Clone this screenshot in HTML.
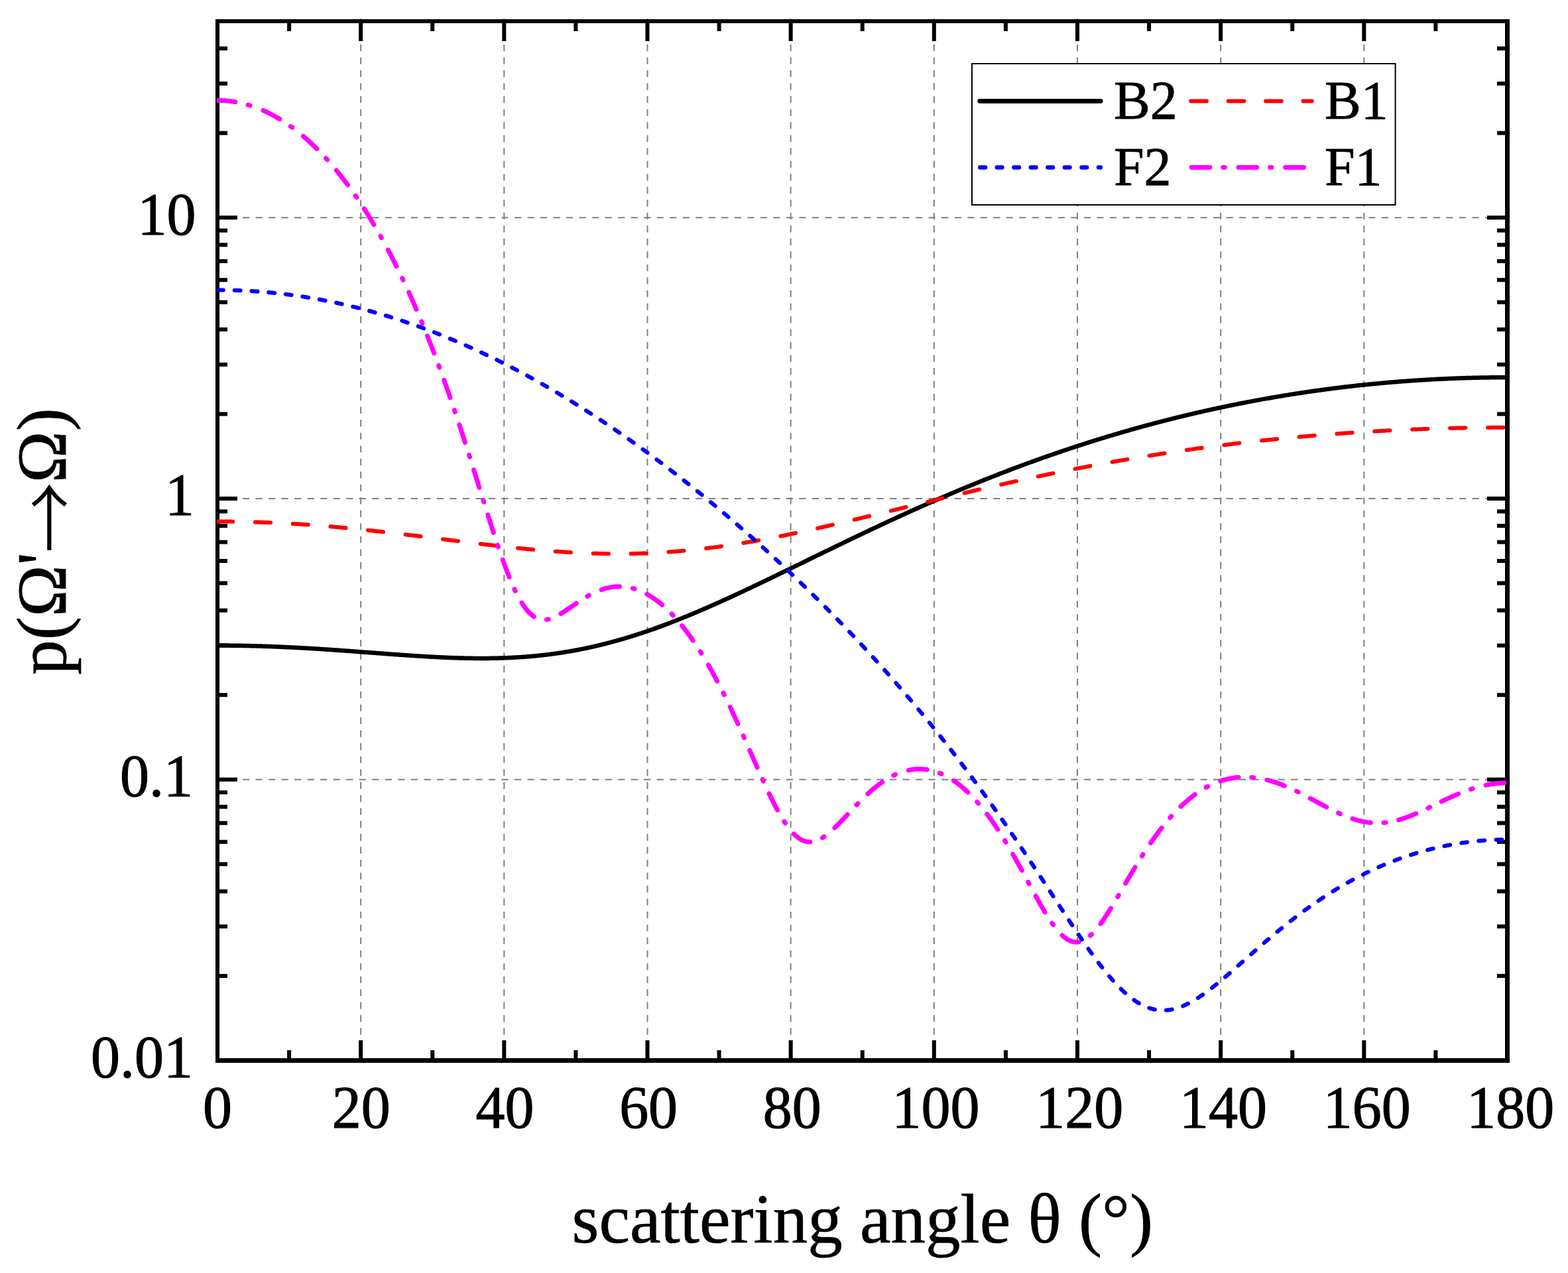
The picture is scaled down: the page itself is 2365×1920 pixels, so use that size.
<!DOCTYPE html><html><head><meta charset="utf-8"><style>html,body{margin:0;padding:0;background:#fff;overflow:hidden;}svg{display:block;}text{font-family:"Liberation Serif",serif;fill:#000;}</style></head><body>
<svg width="2365" height="1920" viewBox="0 0 2365 1920">
<rect x="0" y="0" width="2365" height="1920" fill="#fff"/>
<g stroke="#808080" stroke-width="2" stroke-dasharray="10.2 9.32" fill="none"><line x1="544.17" y1="28" x2="544.17" y2="1600"/><line x1="760.33" y1="28" x2="760.33" y2="1600"/><line x1="976.50" y1="28" x2="976.50" y2="1600"/><line x1="1192.67" y1="28" x2="1192.67" y2="1600"/><line x1="1408.83" y1="28" x2="1408.83" y2="1600"/><line x1="1625.00" y1="28" x2="1625.00" y2="1600"/><line x1="1841.17" y1="28" x2="1841.17" y2="1600"/><line x1="2057.33" y1="28" x2="2057.33" y2="1600"/><line x1="327" y1="328.22" x2="2274" y2="328.22"/><line x1="327" y1="751.98" x2="2274" y2="751.98"/><line x1="327" y1="1175.74" x2="2274" y2="1175.74"/></g>
<g fill="#000"><rect x="325" y="29" width="6" height="1574"/><rect x="325" y="29" width="1952" height="6"/><rect x="325" y="1596" width="1952" height="7"/><rect x="2270" y="29" width="7" height="1574"/><rect x="325.00" y="1569" width="6" height="27"/><rect x="325.00" y="35" width="6" height="27"/><rect x="433.08" y="1584" width="6" height="12"/><rect x="433.08" y="35" width="6" height="12"/><rect x="541.17" y="1569" width="6" height="27"/><rect x="541.17" y="35" width="6" height="27"/><rect x="649.25" y="1584" width="6" height="12"/><rect x="649.25" y="35" width="6" height="12"/><rect x="757.33" y="1569" width="6" height="27"/><rect x="757.33" y="35" width="6" height="27"/><rect x="865.42" y="1584" width="6" height="12"/><rect x="865.42" y="35" width="6" height="12"/><rect x="973.50" y="1569" width="6" height="27"/><rect x="973.50" y="35" width="6" height="27"/><rect x="1081.58" y="1584" width="6" height="12"/><rect x="1081.58" y="35" width="6" height="12"/><rect x="1189.67" y="1569" width="6" height="27"/><rect x="1189.67" y="35" width="6" height="27"/><rect x="1297.75" y="1584" width="6" height="12"/><rect x="1297.75" y="35" width="6" height="12"/><rect x="1405.83" y="1569" width="6" height="27"/><rect x="1405.83" y="35" width="6" height="27"/><rect x="1513.92" y="1584" width="6" height="12"/><rect x="1513.92" y="35" width="6" height="12"/><rect x="1622.00" y="1569" width="6" height="27"/><rect x="1622.00" y="35" width="6" height="27"/><rect x="1730.08" y="1584" width="6" height="12"/><rect x="1730.08" y="35" width="6" height="12"/><rect x="1838.17" y="1569" width="6" height="27"/><rect x="1838.17" y="35" width="6" height="27"/><rect x="1946.25" y="1584" width="6" height="12"/><rect x="1946.25" y="35" width="6" height="12"/><rect x="2054.33" y="1569" width="6" height="27"/><rect x="2054.33" y="35" width="6" height="27"/><rect x="2162.42" y="1584" width="6" height="12"/><rect x="2162.42" y="35" width="6" height="12"/><rect x="2270.50" y="1569" width="6" height="27"/><rect x="2270.50" y="35" width="6" height="27"/><rect x="331" y="1596.50" width="27" height="6"/><rect x="2243" y="1596.50" width="27" height="6"/><rect x="331" y="1468.94" width="12" height="6"/><rect x="2258" y="1468.94" width="12" height="6"/><rect x="331" y="1394.32" width="12" height="6"/><rect x="2258" y="1394.32" width="12" height="6"/><rect x="331" y="1341.37" width="12" height="6"/><rect x="2258" y="1341.37" width="12" height="6"/><rect x="331" y="1300.30" width="12" height="6"/><rect x="2258" y="1300.30" width="12" height="6"/><rect x="331" y="1266.75" width="12" height="6"/><rect x="2258" y="1266.75" width="12" height="6"/><rect x="331" y="1238.38" width="12" height="6"/><rect x="2258" y="1238.38" width="12" height="6"/><rect x="331" y="1213.81" width="12" height="6"/><rect x="2258" y="1213.81" width="12" height="6"/><rect x="331" y="1192.13" width="12" height="6"/><rect x="2258" y="1192.13" width="12" height="6"/><rect x="331" y="1172.74" width="27" height="6"/><rect x="2243" y="1172.74" width="27" height="6"/><rect x="331" y="1045.18" width="12" height="6"/><rect x="2258" y="1045.18" width="12" height="6"/><rect x="331" y="970.56" width="12" height="6"/><rect x="2258" y="970.56" width="12" height="6"/><rect x="331" y="917.61" width="12" height="6"/><rect x="2258" y="917.61" width="12" height="6"/><rect x="331" y="876.54" width="12" height="6"/><rect x="2258" y="876.54" width="12" height="6"/><rect x="331" y="842.99" width="12" height="6"/><rect x="2258" y="842.99" width="12" height="6"/><rect x="331" y="814.62" width="12" height="6"/><rect x="2258" y="814.62" width="12" height="6"/><rect x="331" y="790.05" width="12" height="6"/><rect x="2258" y="790.05" width="12" height="6"/><rect x="331" y="768.37" width="12" height="6"/><rect x="2258" y="768.37" width="12" height="6"/><rect x="331" y="748.98" width="27" height="6"/><rect x="2243" y="748.98" width="27" height="6"/><rect x="331" y="621.42" width="12" height="6"/><rect x="2258" y="621.42" width="12" height="6"/><rect x="331" y="546.80" width="12" height="6"/><rect x="2258" y="546.80" width="12" height="6"/><rect x="331" y="493.85" width="12" height="6"/><rect x="2258" y="493.85" width="12" height="6"/><rect x="331" y="452.78" width="12" height="6"/><rect x="2258" y="452.78" width="12" height="6"/><rect x="331" y="419.23" width="12" height="6"/><rect x="2258" y="419.23" width="12" height="6"/><rect x="331" y="390.86" width="12" height="6"/><rect x="2258" y="390.86" width="12" height="6"/><rect x="331" y="366.29" width="12" height="6"/><rect x="2258" y="366.29" width="12" height="6"/><rect x="331" y="344.61" width="12" height="6"/><rect x="2258" y="344.61" width="12" height="6"/><rect x="331" y="325.22" width="27" height="6"/><rect x="2243" y="325.22" width="27" height="6"/><rect x="331" y="197.66" width="12" height="6"/><rect x="2258" y="197.66" width="12" height="6"/><rect x="331" y="123.04" width="12" height="6"/><rect x="2258" y="123.04" width="12" height="6"/><rect x="331" y="70.09" width="12" height="6"/><rect x="2258" y="70.09" width="12" height="6"/></g>
<defs><clipPath id="c"><rect x="327" y="20" width="1948" height="1590"/></clipPath></defs>
<g clip-path="url(#c)" fill="none" stroke-linejoin="round">
<path d="M328.00,973.56 329.35,973.56 330.70,973.56 332.05,973.56 333.40,973.56 334.76,973.57 336.11,973.57 337.46,973.58 338.81,973.58 340.16,973.59 341.51,973.60 342.86,973.61 344.21,973.62 345.56,973.63 346.91,973.64 348.27,973.65 349.62,973.67 350.97,973.68 352.32,973.70 353.67,973.71 355.02,973.73 356.37,973.75 357.72,973.77 359.07,973.79 360.43,973.81 361.78,973.83 363.13,973.85 364.48,973.87 365.83,973.90 367.18,973.92 368.53,973.95 369.88,973.97 371.23,974.00 372.58,974.03 373.94,974.06 375.29,974.09 376.64,974.12 377.99,974.15 379.34,974.18 380.69,974.22 382.04,974.25 383.39,974.28 384.74,974.32 386.09,974.36 387.45,974.39 388.80,974.43 390.15,974.47 391.50,974.51 392.85,974.55 394.20,974.59 395.55,974.64 396.90,974.68 398.25,974.72 399.61,974.77 400.96,974.81 402.31,974.86 403.66,974.91 405.01,974.95 406.36,975.00 407.71,975.05 409.06,975.10 410.41,975.15 411.76,975.21 413.12,975.26 414.47,975.31 415.82,975.36 417.17,975.42 418.52,975.48 419.87,975.53 421.22,975.59 422.57,975.65 423.92,975.71 425.27,975.76 426.63,975.82 427.98,975.89 429.33,975.95 430.68,976.01 432.03,976.07 433.38,976.14 434.73,976.20 436.08,976.26 437.43,976.33 438.79,976.40 440.14,976.46 441.49,976.53 442.84,976.60 444.19,976.67 445.54,976.74 446.89,976.81 448.24,976.88 449.59,976.95 450.94,977.03 452.30,977.10 453.65,977.17 455.00,977.25 456.35,977.32 457.70,977.40 459.05,977.47 460.40,977.55 461.75,977.63 463.10,977.71 464.46,977.78 465.81,977.86 467.16,977.94 468.51,978.02 469.86,978.10 471.21,978.19 472.56,978.27 473.91,978.35 475.26,978.43 476.61,978.52 477.97,978.60 479.32,978.69 480.67,978.77 482.02,978.86 483.37,978.94 484.72,979.03 486.07,979.12 487.42,979.21 488.77,979.29 490.12,979.38 491.48,979.47 492.83,979.56 494.18,979.65 495.53,979.74 496.88,979.83 498.23,979.93 499.58,980.02 500.93,980.11 502.28,980.20 503.64,980.29 504.99,980.39 506.34,980.48 507.69,980.58 509.04,980.67 510.39,980.77 511.74,980.86 513.09,980.96 514.44,981.05 515.79,981.15 517.15,981.25 518.50,981.34 519.85,981.44 521.20,981.54 522.55,981.64 523.90,981.73 525.25,981.83 526.60,981.93 527.95,982.03 529.31,982.13 530.66,982.23 532.01,982.33 533.36,982.43 534.71,982.53 536.06,982.63 537.41,982.73 538.76,982.83 540.11,982.93 541.46,983.03 542.82,983.13 544.17,983.23 545.52,983.33 546.87,983.43 548.22,983.53 549.57,983.64 550.92,983.74 552.27,983.84 553.62,983.94 554.98,984.04 556.33,984.14 557.68,984.25 559.03,984.35 560.38,984.45 561.73,984.55 563.08,984.65 564.43,984.75 565.78,984.86 567.13,984.96 568.49,985.06 569.84,985.16 571.19,985.26 572.54,985.36 573.89,985.47 575.24,985.57 576.59,985.67 577.94,985.77 579.29,985.87 580.64,985.97 582.00,986.07 583.35,986.17 584.70,986.27 586.05,986.37 587.40,986.47 588.75,986.57 590.10,986.67 591.45,986.77 592.80,986.87 594.16,986.96 595.51,987.06 596.86,987.16 598.21,987.26 599.56,987.35 600.91,987.45 602.26,987.55 603.61,987.64 604.96,987.74 606.31,987.83 607.67,987.93 609.02,988.02 610.37,988.12 611.72,988.21 613.07,988.30 614.42,988.39 615.77,988.49 617.12,988.58 618.47,988.67 619.83,988.76 621.18,988.85 622.53,988.94 623.88,989.03 625.23,989.12 626.58,989.20 627.93,989.29 629.28,989.38 630.63,989.46 631.98,989.55 633.34,989.63 634.69,989.71 636.04,989.80 637.39,989.88 638.74,989.96 640.09,990.04 641.44,990.12 642.79,990.20 644.14,990.28 645.49,990.36 646.85,990.43 648.20,990.51 649.55,990.58 650.90,990.66 652.25,990.73 653.60,990.80 654.95,990.87 656.30,990.94 657.65,991.01 659.01,991.08 660.36,991.15 661.71,991.22 663.06,991.28 664.41,991.35 665.76,991.41 667.11,991.47 668.46,991.53 669.81,991.59 671.16,991.65 672.52,991.71 673.87,991.77 675.22,991.82 676.57,991.88 677.92,991.93 679.27,991.99 680.62,992.04 681.97,992.09 683.32,992.13 684.67,992.18 686.03,992.23 687.38,992.27 688.73,992.32 690.08,992.36 691.43,992.40 692.78,992.44 694.13,992.48 695.48,992.51 696.83,992.55 698.19,992.58 699.54,992.62 700.89,992.65 702.24,992.68 703.59,992.71 704.94,992.73 706.29,992.76 707.64,992.78 708.99,992.80 710.34,992.82 711.70,992.84 713.05,992.86 714.40,992.88 715.75,992.89 717.10,992.90 718.45,992.91 719.80,992.92 721.15,992.93 722.50,992.94 723.86,992.94 725.21,992.94 726.56,992.95 727.91,992.94 729.26,992.94 730.61,992.94 731.96,992.93 733.31,992.92 734.66,992.91 736.01,992.90 737.37,992.89 738.72,992.87 740.07,992.85 741.42,992.84 742.77,992.81 744.12,992.79 745.47,992.77 746.82,992.74 748.17,992.71 749.53,992.68 750.88,992.65 752.23,992.61 753.58,992.57 754.93,992.53 756.28,992.49 757.63,992.45 758.98,992.40 760.33,992.36 761.68,992.31 763.04,992.26 764.39,992.20 765.74,992.15 767.09,992.09 768.44,992.03 769.79,991.96 771.14,991.90 772.49,991.83 773.84,991.76 775.19,991.69 776.55,991.62 777.90,991.54 779.25,991.46 780.60,991.38 781.95,991.30 783.30,991.21 784.65,991.13 786.00,991.04 787.35,990.95 788.71,990.85 790.06,990.75 791.41,990.65 792.76,990.55 794.11,990.45 795.46,990.34 796.81,990.23 798.16,990.12 799.51,990.01 800.86,989.89 802.22,989.77 803.57,989.65 804.92,989.52 806.27,989.40 807.62,989.27 808.97,989.14 810.32,989.00 811.67,988.87 813.02,988.73 814.38,988.59 815.73,988.44 817.08,988.29 818.43,988.15 819.78,987.99 821.13,987.84 822.48,987.68 823.83,987.52 825.18,987.36 826.53,987.19 827.89,987.02 829.24,986.85 830.59,986.68 831.94,986.51 833.29,986.33 834.64,986.15 835.99,985.96 837.34,985.77 838.69,985.59 840.04,985.39 841.40,985.20 842.75,985.00 844.10,984.80 845.45,984.60 846.80,984.39 848.15,984.18 849.50,983.97 850.85,983.76 852.20,983.54 853.56,983.32 854.91,983.10 856.26,982.87 857.61,982.65 858.96,982.42 860.31,982.18 861.66,981.95 863.01,981.71 864.36,981.47 865.71,981.22 867.07,980.98 868.42,980.73 869.77,980.47 871.12,980.22 872.47,979.96 873.82,979.70 875.17,979.43 876.52,979.17 877.87,978.90 879.23,978.62 880.58,978.35 881.93,978.07 883.28,977.79 884.63,977.51 885.98,977.22 887.33,976.93 888.68,976.64 890.03,976.35 891.38,976.05 892.74,975.75 894.09,975.44 895.44,975.14 896.79,974.83 898.14,974.52 899.49,974.20 900.84,973.89 902.19,973.57 903.54,973.25 904.89,972.92 906.25,972.59 907.60,972.26 908.95,971.93 910.30,971.59 911.65,971.25 913.00,970.91 914.35,970.57 915.70,970.22 917.05,969.87 918.41,969.52 919.76,969.16 921.11,968.80 922.46,968.44 923.81,968.08 925.16,967.71 926.51,967.34 927.86,966.97 929.21,966.60 930.56,966.22 931.92,965.84 933.27,965.46 934.62,965.07 935.97,964.69 937.32,964.30 938.67,963.90 940.02,963.51 941.37,963.11 942.72,962.71 944.07,962.31 945.43,961.90 946.78,961.49 948.13,961.08 949.48,960.67 950.83,960.25 952.18,959.83 953.53,959.41 954.88,958.99 956.23,958.56 957.59,958.14 958.94,957.70 960.29,957.27 961.64,956.83 962.99,956.40 964.34,955.96 965.69,955.51 967.04,955.07 968.39,954.62 969.74,954.17 971.10,953.71 972.45,953.26 973.80,952.80 975.15,952.34 976.50,951.88 977.85,951.41 979.20,950.95 980.55,950.48 981.90,950.01 983.26,949.53 984.61,949.06 985.96,948.58 987.31,948.10 988.66,947.61 990.01,947.13 991.36,946.64 992.71,946.15 994.06,945.66 995.41,945.16 996.77,944.67 998.12,944.17 999.47,943.67 1000.82,943.17 1002.17,942.66 1003.52,942.16 1004.87,941.65 1006.22,941.14 1007.57,940.62 1008.92,940.11 1010.28,939.59 1011.63,939.07 1012.98,938.55 1014.33,938.03 1015.68,937.50 1017.03,936.98 1018.38,936.45 1019.73,935.92 1021.08,935.38 1022.44,934.85 1023.79,934.31 1025.14,933.77 1026.49,933.23 1027.84,932.69 1029.19,932.15 1030.54,931.60 1031.89,931.05 1033.24,930.50 1034.59,929.95 1035.95,929.40 1037.30,928.85 1038.65,928.29 1040.00,927.73 1041.35,927.17 1042.70,926.61 1044.05,926.05 1045.40,925.48 1046.75,924.92 1048.11,924.35 1049.46,923.78 1050.81,923.21 1052.16,922.63 1053.51,922.06 1054.86,921.48 1056.21,920.91 1057.56,920.33 1058.91,919.75 1060.26,919.17 1061.62,918.58 1062.97,918.00 1064.32,917.41 1065.67,916.82 1067.02,916.24 1068.37,915.64 1069.72,915.05 1071.07,914.46 1072.42,913.87 1073.78,913.27 1075.13,912.67 1076.48,912.07 1077.83,911.47 1079.18,910.87 1080.53,910.27 1081.88,909.67 1083.23,909.06 1084.58,908.46 1085.93,907.85 1087.29,907.24 1088.64,906.63 1089.99,906.02 1091.34,905.41 1092.69,904.80 1094.04,904.18 1095.39,903.57 1096.74,902.95 1098.09,902.33 1099.44,901.72 1100.80,901.10 1102.15,900.48 1103.50,899.85 1104.85,899.23 1106.20,898.61 1107.55,897.98 1108.90,897.36 1110.25,896.73 1111.60,896.11 1112.96,895.48 1114.31,894.85 1115.66,894.22 1117.01,893.59 1118.36,892.96 1119.71,892.32 1121.06,891.69 1122.41,891.06 1123.76,890.42 1125.11,889.79 1126.47,889.15 1127.82,888.51 1129.17,887.88 1130.52,887.24 1131.87,886.60 1133.22,885.96 1134.57,885.32 1135.92,884.68 1137.27,884.03 1138.62,883.39 1139.98,882.75 1141.33,882.10 1142.68,881.46 1144.03,880.81 1145.38,880.17 1146.73,879.52 1148.08,878.88 1149.43,878.23 1150.78,877.58 1152.14,876.93 1153.49,876.28 1154.84,875.63 1156.19,874.98 1157.54,874.33 1158.89,873.68 1160.24,873.03 1161.59,872.38 1162.94,871.73 1164.29,871.08 1165.65,870.42 1167.00,869.77 1168.35,869.12 1169.70,868.46 1171.05,867.81 1172.40,867.15 1173.75,866.50 1175.10,865.84 1176.45,865.19 1177.81,864.53 1179.16,863.87 1180.51,863.22 1181.86,862.56 1183.21,861.90 1184.56,861.25 1185.91,860.59 1187.26,859.93 1188.61,859.27 1189.96,858.62 1191.32,857.96 1192.67,857.30 1194.02,856.64 1195.37,855.98 1196.72,855.32 1198.07,854.67 1199.42,854.01 1200.77,853.35 1202.12,852.69 1203.47,852.03 1204.83,851.37 1206.18,850.71 1207.53,850.05 1208.88,849.39 1210.23,848.73 1211.58,848.07 1212.93,847.41 1214.28,846.75 1215.63,846.09 1216.99,845.43 1218.34,844.77 1219.69,844.11 1221.04,843.46 1222.39,842.80 1223.74,842.14 1225.09,841.48 1226.44,840.82 1227.79,840.16 1229.14,839.50 1230.50,838.84 1231.85,838.18 1233.20,837.52 1234.55,836.87 1235.90,836.21 1237.25,835.55 1238.60,834.89 1239.95,834.23 1241.30,833.57 1242.66,832.92 1244.01,832.26 1245.36,831.60 1246.71,830.95 1248.06,830.29 1249.41,829.63 1250.76,828.98 1252.11,828.32 1253.46,827.66 1254.81,827.01 1256.17,826.35 1257.52,825.70 1258.87,825.04 1260.22,824.39 1261.57,823.74 1262.92,823.08 1264.27,822.43 1265.62,821.77 1266.97,821.12 1268.33,820.47 1269.68,819.82 1271.03,819.17 1272.38,818.51 1273.73,817.86 1275.08,817.21 1276.43,816.56 1277.78,815.91 1279.13,815.26 1280.48,814.61 1281.84,813.96 1283.19,813.31 1284.54,812.67 1285.89,812.02 1287.24,811.37 1288.59,810.72 1289.94,810.08 1291.29,809.43 1292.64,808.79 1293.99,808.14 1295.35,807.50 1296.70,806.85 1298.05,806.21 1299.40,805.57 1300.75,804.92 1302.10,804.28 1303.45,803.64 1304.80,803.00 1306.15,802.36 1307.51,801.72 1308.86,801.08 1310.21,800.44 1311.56,799.80 1312.91,799.16 1314.26,798.53 1315.61,797.89 1316.96,797.25 1318.31,796.62 1319.66,795.98 1321.02,795.35 1322.37,794.71 1323.72,794.08 1325.07,793.45 1326.42,792.81 1327.77,792.18 1329.12,791.55 1330.47,790.92 1331.82,790.29 1333.18,789.66 1334.53,789.03 1335.88,788.40 1337.23,787.78 1338.58,787.15 1339.93,786.52 1341.28,785.90 1342.63,785.27 1343.98,784.65 1345.33,784.02 1346.69,783.40 1348.04,782.78 1349.39,782.16 1350.74,781.54 1352.09,780.91 1353.44,780.30 1354.79,779.68 1356.14,779.06 1357.49,778.44 1358.84,777.82 1360.20,777.21 1361.55,776.59 1362.90,775.98 1364.25,775.36 1365.60,774.75 1366.95,774.14 1368.30,773.52 1369.65,772.91 1371.00,772.30 1372.36,771.69 1373.71,771.08 1375.06,770.47 1376.41,769.87 1377.76,769.26 1379.11,768.65 1380.46,768.05 1381.81,767.44 1383.16,766.84 1384.51,766.24 1385.87,765.63 1387.22,765.03 1388.57,764.43 1389.92,763.83 1391.27,763.23 1392.62,762.63 1393.97,762.04 1395.32,761.44 1396.67,760.84 1398.03,760.25 1399.38,759.65 1400.73,759.06 1402.08,758.47 1403.43,757.87 1404.78,757.28 1406.13,756.69 1407.48,756.10 1408.83,755.51 1410.18,754.92 1411.54,754.34 1412.89,753.75 1414.24,753.16 1415.59,752.58 1416.94,751.99 1418.29,751.41 1419.64,750.83 1420.99,750.25 1422.34,749.67 1423.69,749.09 1425.05,748.51 1426.40,747.93 1427.75,747.35 1429.10,746.77 1430.45,746.20 1431.80,745.62 1433.15,745.05 1434.50,744.48 1435.85,743.90 1437.21,743.33 1438.56,742.76 1439.91,742.19 1441.26,741.62 1442.61,741.05 1443.96,740.49 1445.31,739.92 1446.66,739.36 1448.01,738.79 1449.36,738.23 1450.72,737.66 1452.07,737.10 1453.42,736.54 1454.77,735.98 1456.12,735.42 1457.47,734.86 1458.82,734.30 1460.17,733.75 1461.52,733.19 1462.88,732.64 1464.23,732.08 1465.58,731.53 1466.93,730.98 1468.28,730.43 1469.63,729.88 1470.98,729.33 1472.33,728.78 1473.68,728.23 1475.03,727.68 1476.39,727.14 1477.74,726.59 1479.09,726.05 1480.44,725.50 1481.79,724.96 1483.14,724.42 1484.49,723.88 1485.84,723.34 1487.19,722.80 1488.54,722.26 1489.90,721.73 1491.25,721.19 1492.60,720.66 1493.95,720.12 1495.30,719.59 1496.65,719.06 1498.00,718.53 1499.35,718.00 1500.70,717.47 1502.06,716.94 1503.41,716.41 1504.76,715.88 1506.11,715.36 1507.46,714.83 1508.81,714.31 1510.16,713.79 1511.51,713.26 1512.86,712.74 1514.21,712.22 1515.57,711.70 1516.92,711.18 1518.27,710.67 1519.62,710.15 1520.97,709.64 1522.32,709.12 1523.67,708.61 1525.02,708.09 1526.37,707.58 1527.73,707.07 1529.08,706.56 1530.43,706.05 1531.78,705.55 1533.13,705.04 1534.48,704.53 1535.83,704.03 1537.18,703.52 1538.53,703.02 1539.88,702.52 1541.24,702.02 1542.59,701.52 1543.94,701.02 1545.29,700.52 1546.64,700.02 1547.99,699.53 1549.34,699.03 1550.69,698.53 1552.04,698.04 1553.39,697.55 1554.75,697.06 1556.10,696.57 1557.45,696.08 1558.80,695.59 1560.15,695.10 1561.50,694.61 1562.85,694.13 1564.20,693.64 1565.55,693.16 1566.91,692.67 1568.26,692.19 1569.61,691.71 1570.96,691.23 1572.31,690.75 1573.66,690.27 1575.01,689.80 1576.36,689.32 1577.71,688.84 1579.06,688.37 1580.42,687.90 1581.77,687.42 1583.12,686.95 1584.47,686.48 1585.82,686.01 1587.17,685.54 1588.52,685.08 1589.87,684.61 1591.22,684.14 1592.58,683.68 1593.93,683.21 1595.28,682.75 1596.63,682.29 1597.98,681.83 1599.33,681.37 1600.68,680.91 1602.03,680.45 1603.38,680.00 1604.73,679.54 1606.09,679.08 1607.44,678.63 1608.79,678.18 1610.14,677.73 1611.49,677.27 1612.84,676.82 1614.19,676.37 1615.54,675.93 1616.89,675.48 1618.24,675.03 1619.60,674.59 1620.95,674.14 1622.30,673.70 1623.65,673.26 1625.00,672.82 1626.35,672.37 1627.70,671.94 1629.05,671.50 1630.40,671.06 1631.76,670.62 1633.11,670.19 1634.46,669.75 1635.81,669.32 1637.16,668.89 1638.51,668.45 1639.86,668.02 1641.21,667.59 1642.56,667.16 1643.91,666.74 1645.27,666.31 1646.62,665.88 1647.97,665.46 1649.32,665.03 1650.67,664.61 1652.02,664.19 1653.37,663.77 1654.72,663.35 1656.07,662.93 1657.42,662.51 1658.78,662.09 1660.13,661.68 1661.48,661.26 1662.83,660.85 1664.18,660.43 1665.53,660.02 1666.88,659.61 1668.23,659.20 1669.58,658.79 1670.94,658.38 1672.29,657.98 1673.64,657.57 1674.99,657.16 1676.34,656.76 1677.69,656.35 1679.04,655.95 1680.39,655.55 1681.74,655.15 1683.09,654.75 1684.45,654.35 1685.80,653.95 1687.15,653.56 1688.50,653.16 1689.85,652.77 1691.20,652.37 1692.55,651.98 1693.90,651.59 1695.25,651.20 1696.61,650.81 1697.96,650.42 1699.31,650.03 1700.66,649.64 1702.01,649.26 1703.36,648.87 1704.71,648.49 1706.06,648.10 1707.41,647.72 1708.76,647.34 1710.12,646.96 1711.47,646.58 1712.82,646.20 1714.17,645.82 1715.52,645.45 1716.87,645.07 1718.22,644.70 1719.57,644.32 1720.92,643.95 1722.28,643.58 1723.63,643.21 1724.98,642.84 1726.33,642.47 1727.68,642.10 1729.03,641.74 1730.38,641.37 1731.73,641.00 1733.08,640.64 1734.43,640.28 1735.79,639.92 1737.14,639.55 1738.49,639.19 1739.84,638.83 1741.19,638.48 1742.54,638.12 1743.89,637.76 1745.24,637.41 1746.59,637.05 1747.94,636.70 1749.30,636.35 1750.65,636.00 1752.00,635.65 1753.35,635.30 1754.70,634.95 1756.05,634.60 1757.40,634.25 1758.75,633.91 1760.10,633.56 1761.46,633.22 1762.81,632.88 1764.16,632.53 1765.51,632.19 1766.86,631.85 1768.21,631.51 1769.56,631.18 1770.91,630.84 1772.26,630.50 1773.61,630.17 1774.97,629.83 1776.32,629.50 1777.67,629.17 1779.02,628.84 1780.37,628.51 1781.72,628.18 1783.07,627.85 1784.42,627.52 1785.77,627.19 1787.12,626.87 1788.48,626.54 1789.83,626.22 1791.18,625.90 1792.53,625.57 1793.88,625.25 1795.23,624.93 1796.58,624.61 1797.93,624.30 1799.28,623.98 1800.64,623.66 1801.99,623.35 1803.34,623.03 1804.69,622.72 1806.04,622.41 1807.39,622.10 1808.74,621.79 1810.09,621.48 1811.44,621.17 1812.79,620.86 1814.15,620.55 1815.50,620.25 1816.85,619.94 1818.20,619.64 1819.55,619.34 1820.90,619.03 1822.25,618.73 1823.60,618.43 1824.95,618.13 1826.31,617.84 1827.66,617.54 1829.01,617.24 1830.36,616.95 1831.71,616.65 1833.06,616.36 1834.41,616.07 1835.76,615.77 1837.11,615.48 1838.46,615.19 1839.82,614.90 1841.17,614.62 1842.52,614.33 1843.87,614.04 1845.22,613.76 1846.57,613.47 1847.92,613.19 1849.27,612.91 1850.62,612.63 1851.97,612.35 1853.33,612.07 1854.68,611.79 1856.03,611.51 1857.38,611.24 1858.73,610.96 1860.08,610.69 1861.43,610.41 1862.78,610.14 1864.13,609.87 1865.49,609.60 1866.84,609.33 1868.19,609.06 1869.54,608.79 1870.89,608.52 1872.24,608.25 1873.59,607.99 1874.94,607.72 1876.29,607.46 1877.64,607.20 1879.00,606.94 1880.35,606.68 1881.70,606.42 1883.05,606.16 1884.40,605.90 1885.75,605.64 1887.10,605.39 1888.45,605.13 1889.80,604.88 1891.16,604.62 1892.51,604.37 1893.86,604.12 1895.21,603.87 1896.56,603.62 1897.91,603.37 1899.26,603.12 1900.61,602.88 1901.96,602.63 1903.31,602.38 1904.67,602.14 1906.02,601.90 1907.37,601.65 1908.72,601.41 1910.07,601.17 1911.42,600.93 1912.77,600.69 1914.12,600.46 1915.47,600.22 1916.83,599.98 1918.18,599.75 1919.53,599.52 1920.88,599.28 1922.23,599.05 1923.58,598.82 1924.93,598.59 1926.28,598.36 1927.63,598.13 1928.98,597.90 1930.34,597.68 1931.69,597.45 1933.04,597.23 1934.39,597.00 1935.74,596.78 1937.09,596.56 1938.44,596.34 1939.79,596.12 1941.14,595.90 1942.49,595.68 1943.85,595.46 1945.20,595.24 1946.55,595.03 1947.90,594.81 1949.25,594.60 1950.60,594.39 1951.95,594.18 1953.30,593.96 1954.65,593.75 1956.01,593.55 1957.36,593.34 1958.71,593.13 1960.06,592.92 1961.41,592.72 1962.76,592.51 1964.11,592.31 1965.46,592.11 1966.81,591.90 1968.16,591.70 1969.52,591.50 1970.87,591.30 1972.22,591.11 1973.57,590.91 1974.92,590.71 1976.27,590.52 1977.62,590.32 1978.97,590.13 1980.32,589.94 1981.67,589.74 1983.03,589.55 1984.38,589.36 1985.73,589.17 1987.08,588.98 1988.43,588.80 1989.78,588.61 1991.13,588.43 1992.48,588.24 1993.83,588.06 1995.19,587.87 1996.54,587.69 1997.89,587.51 1999.24,587.33 2000.59,587.15 2001.94,586.97 2003.29,586.80 2004.64,586.62 2005.99,586.44 2007.34,586.27 2008.70,586.09 2010.05,585.92 2011.40,585.75 2012.75,585.58 2014.10,585.41 2015.45,585.24 2016.80,585.07 2018.15,584.90 2019.50,584.74 2020.86,584.57 2022.21,584.41 2023.56,584.24 2024.91,584.08 2026.26,583.92 2027.61,583.76 2028.96,583.60 2030.31,583.44 2031.66,583.28 2033.01,583.12 2034.37,582.96 2035.72,582.81 2037.07,582.65 2038.42,582.50 2039.77,582.34 2041.12,582.19 2042.47,582.04 2043.82,581.89 2045.17,581.74 2046.52,581.59 2047.88,581.44 2049.23,581.30 2050.58,581.15 2051.93,581.01 2053.28,580.86 2054.63,580.72 2055.98,580.58 2057.33,580.44 2058.68,580.29 2060.04,580.15 2061.39,580.02 2062.74,579.88 2064.09,579.74 2065.44,579.60 2066.79,579.47 2068.14,579.33 2069.49,579.20 2070.84,579.07 2072.19,578.94 2073.55,578.81 2074.90,578.68 2076.25,578.55 2077.60,578.42 2078.95,578.29 2080.30,578.17 2081.65,578.04 2083.00,577.92 2084.35,577.79 2085.71,577.67 2087.06,577.55 2088.41,577.43 2089.76,577.31 2091.11,577.19 2092.46,577.07 2093.81,576.95 2095.16,576.83 2096.51,576.72 2097.86,576.60 2099.22,576.49 2100.57,576.38 2101.92,576.26 2103.27,576.15 2104.62,576.04 2105.97,575.93 2107.32,575.82 2108.67,575.72 2110.02,575.61 2111.38,575.50 2112.73,575.40 2114.08,575.29 2115.43,575.19 2116.78,575.09 2118.13,574.99 2119.48,574.89 2120.83,574.79 2122.18,574.69 2123.53,574.59 2124.89,574.49 2126.24,574.40 2127.59,574.30 2128.94,574.21 2130.29,574.11 2131.64,574.02 2132.99,573.93 2134.34,573.84 2135.69,573.75 2137.04,573.66 2138.40,573.57 2139.75,573.48 2141.10,573.40 2142.45,573.31 2143.80,573.23 2145.15,573.14 2146.50,573.06 2147.85,572.98 2149.20,572.90 2150.56,572.82 2151.91,572.74 2153.26,572.66 2154.61,572.58 2155.96,572.50 2157.31,572.43 2158.66,572.35 2160.01,572.28 2161.36,572.21 2162.71,572.13 2164.07,572.06 2165.42,571.99 2166.77,571.92 2168.12,571.85 2169.47,571.78 2170.82,571.72 2172.17,571.65 2173.52,571.59 2174.87,571.52 2176.22,571.46 2177.58,571.39 2178.93,571.33 2180.28,571.27 2181.63,571.21 2182.98,571.15 2184.33,571.09 2185.68,571.04 2187.03,570.98 2188.38,570.92 2189.74,570.87 2191.09,570.82 2192.44,570.76 2193.79,570.71 2195.14,570.66 2196.49,570.61 2197.84,570.56 2199.19,570.51 2200.54,570.46 2201.89,570.42 2203.25,570.37 2204.60,570.32 2205.95,570.28 2207.30,570.24 2208.65,570.19 2210.00,570.15 2211.35,570.11 2212.70,570.07 2214.05,570.03 2215.41,570.00 2216.76,569.96 2218.11,569.92 2219.46,569.89 2220.81,569.85 2222.16,569.82 2223.51,569.78 2224.86,569.75 2226.21,569.72 2227.56,569.69 2228.92,569.66 2230.27,569.63 2231.62,569.61 2232.97,569.58 2234.32,569.55 2235.67,569.53 2237.02,569.50 2238.37,569.48 2239.72,569.46 2241.07,569.44 2242.43,569.42 2243.78,569.40 2245.13,569.38 2246.48,569.36 2247.83,569.34 2249.18,569.33 2250.53,569.31 2251.88,569.30 2253.23,569.28 2254.59,569.27 2255.94,569.26 2257.29,569.25 2258.64,569.24 2259.99,569.23 2261.34,569.22 2262.69,569.21 2264.04,569.21 2265.39,569.20 2266.74,569.20 2268.10,569.19 2269.45,569.19 2270.80,569.19 2272.15,569.19 2273.50,569.19" stroke="#000" stroke-width="6.5"/>
<path d="M328.01,786.49 328.14,786.49 330.03,786.49 331.92,786.50 333.81,786.50 335.70,786.51 337.59,786.52 339.48,786.53 341.38,786.54 343.27,786.56 345.16,786.57 347.05,786.59 348.94,786.61 350.83,786.64 351.21,786.64 M384.89,787.38 385.01,787.38 386.91,787.44 388.80,787.50 390.69,787.57 392.58,787.63 394.47,787.70 396.36,787.77 398.25,787.84 400.15,787.91 402.04,787.99 403.93,788.07 405.82,788.14 407.71,788.23 408.07,788.24 M441.72,789.99 441.76,789.99 443.65,790.11 445.54,790.22 447.43,790.34 449.32,790.46 451.22,790.58 453.11,790.71 455.00,790.83 456.89,790.96 458.78,791.09 460.67,791.22 462.56,791.35 464.46,791.49 464.87,791.52 M498.46,794.17 498.50,794.18 500.39,794.34 502.28,794.51 504.18,794.68 506.07,794.84 507.96,795.01 509.85,795.19 511.74,795.36 513.63,795.53 515.52,795.71 517.42,795.89 519.31,796.07 521.20,796.25 521.56,796.28 M555.09,799.69 555.11,799.70 557.00,799.90 558.89,800.11 560.78,800.31 562.68,800.52 564.57,800.73 566.46,800.94 568.35,801.15 570.24,801.36 572.13,801.57 574.02,801.78 575.92,802.00 577.81,802.21 578.15,802.25 M611.62,806.20 611.72,806.21 613.61,806.44 615.50,806.67 617.39,806.90 619.28,807.14 621.18,807.37 623.07,807.60 624.96,807.83 626.85,808.07 628.74,808.30 630.63,808.54 632.52,808.77 634.42,809.01 634.65,809.04 M668.09,813.24 668.19,813.26 670.08,813.50 671.98,813.74 673.87,813.97 675.76,814.21 677.65,814.45 679.54,814.69 681.43,814.93 683.32,815.17 685.22,815.41 687.11,815.64 689.00,815.88 690.89,816.12 691.11,816.15 M724.57,820.27 724.67,820.29 726.56,820.51 728.45,820.74 730.34,820.97 732.23,821.19 734.12,821.42 736.01,821.64 737.91,821.86 739.80,822.08 741.69,822.30 743.58,822.52 745.47,822.74 747.36,822.96 747.61,822.99 M781.12,826.65 781.14,826.65 783.03,826.84 784.92,827.03 786.81,827.22 788.71,827.41 790.60,827.60 792.49,827.79 794.38,827.97 796.27,828.15 798.16,828.33 800.05,828.51 801.95,828.69 803.84,828.86 804.21,828.90 M837.82,831.67 837.88,831.67 839.77,831.81 841.67,831.94 843.56,832.07 845.45,832.20 847.34,832.33 849.23,832.45 851.12,832.57 853.01,832.69 854.91,832.81 856.80,832.92 858.69,833.04 860.58,833.15 860.97,833.17 M894.65,834.66 894.76,834.66 896.65,834.72 898.54,834.77 900.44,834.82 902.33,834.87 904.22,834.92 906.11,834.96 908.00,835.00 909.89,835.03 911.79,835.07 913.68,835.10 915.57,835.13 917.46,835.15 917.85,835.15 M951.57,835.05 951.64,835.05 953.53,835.01 955.42,834.97 957.32,834.93 959.21,834.88 961.10,834.83 962.99,834.78 964.88,834.72 966.77,834.67 968.66,834.60 970.56,834.54 972.45,834.47 974.34,834.40 974.76,834.38 M1008.43,832.52 1008.52,832.51 1010.41,832.38 1012.30,832.24 1014.19,832.10 1016.09,831.95 1017.98,831.80 1019.87,831.65 1021.76,831.49 1023.65,831.33 1025.54,831.17 1027.43,831.01 1029.33,830.84 1031.22,830.67 1031.56,830.64 M1065.09,827.05 1065.13,827.05 1067.02,826.82 1068.91,826.58 1070.80,826.34 1072.69,826.10 1074.59,825.86 1076.48,825.61 1078.37,825.36 1080.26,825.11 1082.15,824.86 1084.04,824.60 1085.93,824.34 1087.83,824.07 1088.10,824.04 M1121.44,818.93 1121.47,818.92 1123.36,818.61 1125.25,818.29 1127.14,817.97 1129.03,817.65 1130.92,817.32 1132.82,817.00 1134.71,816.67 1136.60,816.34 1138.49,816.00 1140.38,815.67 1142.27,815.33 1144.16,814.99 1144.30,814.96 M1177.43,808.63 1177.54,808.61 1179.43,808.23 1181.32,807.85 1183.21,807.47 1185.10,807.08 1186.99,806.69 1188.88,806.30 1190.78,805.91 1192.67,805.52 1194.56,805.13 1196.45,804.73 1198.34,804.33 1200.15,803.95 M1233.11,796.75 1233.20,796.73 1234.95,796.33 1236.71,795.93 1238.47,795.54 1240.22,795.14 1241.98,794.74 1243.74,794.34 1245.49,793.94 1247.25,793.53 1249.01,793.13 1250.76,792.73 1252.52,792.32 1254.27,791.92 1255.73,791.58 M1288.57,783.83 1288.59,783.83 1290.35,783.41 1292.10,782.99 1293.86,782.57 1295.62,782.14 1297.37,781.72 1299.13,781.30 1300.89,780.87 1302.64,780.45 1304.40,780.03 1306.15,779.60 1307.91,779.18 1309.67,778.75 1311.12,778.40 M1343.90,770.40 1343.98,770.38 1345.74,769.95 1347.50,769.52 1349.25,769.09 1351.01,768.66 1352.77,768.23 1354.52,767.80 1356.28,767.37 1358.03,766.94 1359.79,766.51 1361.55,766.08 1363.30,765.65 1365.06,765.22 1366.44,764.88 M1399.22,756.87 1399.24,756.86 1401.00,756.44 1402.75,756.01 1404.51,755.58 1406.27,755.16 1408.02,754.73 1409.78,754.31 1411.54,753.88 1413.29,753.45 1415.05,753.03 1416.80,752.61 1418.56,752.18 1420.32,751.76 1421.76,751.41 M1454.59,743.57 1454.63,743.56 1456.39,743.15 1458.15,742.73 1459.90,742.32 1461.66,741.91 1463.42,741.49 1465.17,741.08 1466.93,740.67 1468.68,740.26 1470.44,739.85 1472.20,739.44 1473.95,739.03 1475.71,738.62 1477.18,738.28 M1510.07,730.76 1510.16,730.74 1511.92,730.34 1513.67,729.95 1515.43,729.56 1517.19,729.16 1518.94,728.77 1520.70,728.38 1522.46,727.99 1524.21,727.60 1525.97,727.21 1527.73,726.82 1529.48,726.43 1531.24,726.05 1532.72,725.72 M1565.71,718.61 1565.82,718.59 1567.72,718.19 1569.61,717.80 1571.50,717.40 1573.39,717.00 1575.28,716.61 1577.17,716.21 1579.06,715.82 1580.96,715.43 1582.85,715.04 1584.74,714.65 1586.63,714.26 1588.43,713.89 M1621.52,707.27 1621.62,707.25 1623.51,706.88 1625.41,706.52 1627.30,706.15 1629.19,705.78 1631.08,705.42 1632.97,705.06 1634.86,704.69 1636.75,704.33 1638.65,703.97 1640.54,703.61 1642.43,703.25 1644.31,702.90 M1677.51,696.81 1677.56,696.80 1679.45,696.47 1681.34,696.13 1683.23,695.80 1685.12,695.46 1687.01,695.13 1688.90,694.80 1690.80,694.47 1692.69,694.14 1694.58,693.81 1696.47,693.49 1698.36,693.16 1700.25,692.84 1700.36,692.82 M1733.66,687.29 1733.76,687.27 1735.65,686.97 1737.54,686.67 1739.43,686.37 1741.32,686.07 1743.22,685.77 1745.11,685.47 1747.00,685.17 1748.89,684.88 1750.78,684.58 1752.67,684.29 1754.56,684.00 1756.46,683.71 1756.58,683.69 M1789.97,678.73 1790.10,678.71 1791.99,678.44 1793.88,678.17 1795.77,677.91 1797.66,677.64 1799.55,677.37 1801.45,677.11 1803.34,676.85 1805.23,676.58 1807.12,676.32 1809.01,676.06 1810.90,675.80 1812.79,675.55 1812.95,675.53 M1846.42,671.15 1846.44,671.15 1848.33,670.91 1850.22,670.67 1852.11,670.44 1854.00,670.21 1855.89,669.97 1857.78,669.74 1859.68,669.51 1861.57,669.28 1863.46,669.06 1865.35,668.83 1867.24,668.60 1869.13,668.38 1869.45,668.34 M1902.99,664.54 1903.04,664.54 1904.94,664.33 1906.83,664.13 1908.72,663.93 1910.61,663.73 1912.50,663.53 1914.39,663.33 1916.28,663.13 1918.18,662.94 1920.07,662.74 1921.96,662.55 1923.85,662.35 1925.74,662.16 1926.07,662.13 M1959.67,658.90 1959.79,658.89 1961.68,658.72 1963.57,658.55 1965.46,658.38 1967.35,658.21 1969.25,658.05 1971.14,657.88 1973.03,657.71 1974.92,657.55 1976.81,657.39 1978.70,657.23 1980.59,657.07 1982.49,656.91 1982.78,656.88 M2016.44,654.22 2016.53,654.21 2018.42,654.08 2020.31,653.94 2022.21,653.80 2024.10,653.66 2025.99,653.53 2027.88,653.39 2029.77,653.26 2031.66,653.13 2033.56,653.00 2035.45,652.87 2037.34,652.74 2039.23,652.61 2039.58,652.59 M2073.28,650.49 2073.41,650.48 2075.30,650.37 2077.19,650.27 2079.09,650.16 2080.98,650.06 2082.87,649.95 2084.76,649.85 2086.65,649.75 2088.54,649.65 2090.43,649.55 2092.33,649.45 2094.22,649.35 2096.11,649.25 2096.44,649.24 M2130.17,647.69 2130.29,647.69 2132.18,647.61 2134.07,647.54 2135.96,647.46 2137.86,647.39 2139.75,647.32 2141.64,647.24 2143.53,647.17 2145.42,647.10 2147.31,647.04 2149.20,646.97 2151.10,646.90 2152.99,646.84 2153.35,646.82 M2187.10,645.83 2187.17,645.83 2189.06,645.78 2190.95,645.74 2192.84,645.69 2194.73,645.65 2196.63,645.61 2198.52,645.57 2200.41,645.53 2202.30,645.49 2204.19,645.45 2206.08,645.42 2207.97,645.38 2209.87,645.34 2210.30,645.34 M2244.06,644.89 2244.18,644.89 2246.07,644.88 2247.97,644.86 2249.86,644.85 2251.75,644.84 2253.64,644.83 2255.53,644.82 2257.42,644.81 2259.31,644.80 2261.21,644.79 2263.10,644.78 2264.99,644.78 2266.88,644.78 2267.26,644.77" stroke="#f00" stroke-width="6.0" stroke-linecap="round"/>
<path d="M328.00,437.46 328.00,437.46 328.68,437.46 329.35,437.46 330.03,437.46 330.70,437.46 331.38,437.47 332.05,437.47 332.73,437.47 333.40,437.48 334.08,437.48 334.76,437.49 335.43,437.49 336.11,437.50 336.78,437.51 M353.81,437.86 353.94,437.86 354.62,437.89 355.29,437.91 355.97,437.93 356.64,437.95 357.32,437.98 357.99,438.00 358.67,438.03 359.34,438.05 360.02,438.08 360.70,438.10 361.37,438.13 362.05,438.16 362.60,438.18 M379.59,439.06 379.61,439.06 380.29,439.10 380.96,439.15 381.64,439.19 382.31,439.23 382.99,439.28 383.66,439.32 384.34,439.37 385.01,439.41 385.69,439.46 386.37,439.51 387.04,439.55 387.72,439.60 388.37,439.65 M405.31,441.05 405.41,441.06 406.09,441.12 406.77,441.19 407.44,441.25 408.12,441.32 408.79,441.38 409.47,441.45 410.14,441.51 410.82,441.58 411.49,441.65 412.17,441.72 412.85,441.78 413.52,441.85 414.07,441.91 M430.94,443.82 430.95,443.83 431.62,443.91 432.30,443.99 432.98,444.08 433.65,444.16 434.33,444.25 435.00,444.34 435.68,444.42 436.35,444.51 437.03,444.60 437.70,444.69 438.38,444.78 439.06,444.87 439.67,444.95 M456.46,447.37 456.48,447.37 457.16,447.48 457.84,447.58 458.51,447.69 459.19,447.79 459.86,447.90 460.54,448.01 461.21,448.11 461.89,448.22 462.56,448.33 463.24,448.44 463.91,448.55 464.59,448.66 465.15,448.75 M481.86,451.67 481.88,451.67 482.56,451.80 483.23,451.92 483.91,452.05 484.59,452.17 485.26,452.30 485.94,452.43 486.61,452.56 487.29,452.68 487.96,452.81 488.64,452.94 489.31,453.07 489.99,453.20 490.51,453.30 M507.12,456.70 507.15,456.71 507.82,456.85 508.50,457.00 509.17,457.15 509.85,457.29 510.53,457.44 511.20,457.59 511.88,457.74 512.55,457.88 513.23,458.03 513.90,458.18 514.58,458.33 515.25,458.49 515.71,458.59 M532.22,462.46 532.28,462.47 532.95,462.64 533.63,462.80 534.30,462.97 534.98,463.13 535.66,463.30 536.33,463.47 537.01,463.64 537.68,463.81 538.36,463.98 539.03,464.15 539.71,464.32 540.38,464.49 540.75,464.58 M557.14,468.91 557.27,468.94 557.95,469.13 558.62,469.31 559.30,469.50 559.97,469.69 560.65,469.87 561.32,470.06 562.00,470.25 562.68,470.44 563.35,470.63 564.03,470.82 564.70,471.01 565.38,471.20 565.62,471.27 M581.89,476.03 582.00,476.07 582.67,476.27 583.35,476.48 584.02,476.68 584.70,476.89 585.37,477.10 586.05,477.30 586.72,477.51 587.40,477.72 588.08,477.93 588.75,478.14 589.43,478.35 590.10,478.56 590.30,478.62 M606.43,483.81 606.45,483.82 607.13,484.04 607.80,484.27 608.48,484.49 609.15,484.72 609.83,484.94 610.50,485.17 611.18,485.40 611.85,485.62 612.53,485.85 613.20,486.08 613.88,486.31 614.56,486.54 614.77,486.61 M630.78,492.22 630.90,492.26 631.58,492.51 632.25,492.75 632.93,492.99 633.61,493.24 634.28,493.48 634.96,493.73 635.63,493.98 636.31,494.22 636.98,494.47 637.66,494.72 638.33,494.97 639.01,495.21 639.04,495.23 M654.91,501.23 654.95,501.24 655.63,501.50 656.30,501.77 656.98,502.03 657.65,502.29 658.33,502.56 659.01,502.82 659.68,503.09 660.36,503.35 661.03,503.62 661.71,503.88 662.38,504.15 663.06,504.42 663.10,504.44 M678.82,510.81 678.87,510.83 679.54,511.11 680.22,511.39 680.89,511.67 681.57,511.95 682.24,512.24 682.92,512.52 683.59,512.80 684.27,513.09 684.95,513.37 685.62,513.66 686.30,513.94 686.94,514.21 M702.52,520.95 702.64,521.01 703.18,521.25 703.72,521.49 704.27,521.73 704.81,521.97 705.35,522.21 705.89,522.45 706.43,522.69 706.97,522.93 707.51,523.17 708.05,523.41 708.59,523.65 709.13,523.90 709.67,524.14 710.21,524.38 710.56,524.54 M725.99,531.63 726.02,531.64 726.56,531.89 727.10,532.14 727.64,532.40 728.18,532.65 728.72,532.91 729.26,533.16 729.80,533.42 730.34,533.67 730.88,533.93 731.42,534.18 731.96,534.44 732.50,534.70 733.04,534.95 733.58,535.21 733.95,535.38 M749.23,542.80 749.25,542.81 749.80,543.08 750.34,543.35 750.88,543.61 751.42,543.88 751.96,544.15 752.50,544.42 753.04,544.69 753.58,544.96 754.12,545.23 754.66,545.50 755.20,545.77 755.74,546.04 756.28,546.31 756.82,546.58 757.11,546.73 M772.25,554.46 772.36,554.52 772.90,554.80 773.44,555.08 773.98,555.36 774.52,555.64 775.06,555.92 775.60,556.21 776.14,556.49 776.68,556.77 777.22,557.06 777.76,557.34 778.30,557.62 778.84,557.91 779.38,558.19 779.92,558.48 780.05,558.54 M795.05,566.58 795.06,566.59 795.60,566.88 796.14,567.18 796.68,567.47 797.22,567.77 797.76,568.06 798.30,568.36 798.84,568.65 799.38,568.95 799.92,569.25 800.46,569.54 801.00,569.84 801.54,570.14 802.08,570.44 802.62,570.73 802.76,570.81 M817.62,579.14 817.62,579.14 818.16,579.45 818.70,579.76 819.24,580.06 819.78,580.37 820.32,580.68 820.86,580.99 821.40,581.30 821.94,581.61 822.48,581.92 823.02,582.23 823.56,582.54 824.10,582.85 824.64,583.16 825.18,583.47 825.25,583.51 M839.96,592.12 840.04,592.16 840.59,592.49 841.13,592.81 841.67,593.13 842.21,593.45 842.75,593.77 843.29,594.09 843.83,594.41 844.37,594.74 844.91,595.06 845.45,595.38 845.99,595.71 846.53,596.03 847.07,596.36 847.52,596.62 M862.09,605.49 862.20,605.56 862.74,605.89 863.28,606.22 863.82,606.56 864.36,606.89 864.90,607.23 865.44,607.56 865.98,607.90 866.53,608.23 867.07,608.57 867.61,608.90 868.15,609.24 868.69,609.58 869.23,609.91 869.57,610.13 M884.00,619.24 884.09,619.30 884.63,619.64 885.17,619.99 885.71,620.34 886.25,620.68 886.79,621.03 887.33,621.38 887.87,621.72 888.41,622.07 888.95,622.42 889.49,622.77 890.03,623.12 890.57,623.46 891.11,623.81 891.40,624.00 M905.69,633.35 905.71,633.36 906.25,633.72 906.79,634.07 907.33,634.43 907.87,634.79 908.41,635.15 908.95,635.51 909.49,635.87 910.03,636.23 910.57,636.59 911.11,636.95 911.65,637.31 912.19,637.67 912.73,638.03 913.02,638.23 M927.18,647.80 927.19,647.81 927.73,648.18 928.27,648.55 928.81,648.92 929.35,649.29 929.89,649.66 930.43,650.03 930.97,650.40 931.51,650.77 932.05,651.15 932.59,651.52 933.13,651.89 933.67,652.26 934.21,652.64 934.43,652.79 M948.46,662.59 948.53,662.64 949.07,663.02 949.61,663.40 950.15,663.78 950.70,664.16 951.24,664.55 951.78,664.93 952.32,665.31 952.86,665.70 953.40,666.08 953.94,666.46 954.48,666.85 955.02,667.23 955.56,667.62 955.64,667.68 M969.54,677.68 969.61,677.73 970.15,678.12 970.69,678.52 971.23,678.91 971.77,679.30 972.31,679.70 972.85,680.09 973.39,680.49 973.93,680.88 974.47,681.28 975.01,681.67 975.55,682.07 976.09,682.47 976.64,682.86 976.64,682.87 M990.41,693.07 990.42,693.07 990.96,693.47 991.50,693.88 992.04,694.28 992.58,694.69 993.12,695.09 993.66,695.50 994.20,695.90 994.74,696.31 995.28,696.72 995.82,697.12 996.36,697.53 996.90,697.94 997.44,698.35 997.45,698.35 M1011.10,708.74 1011.22,708.84 1011.76,709.25 1012.30,709.67 1012.84,710.09 1013.38,710.50 1013.92,710.92 1014.46,711.34 1015.00,711.75 1015.55,712.17 1016.09,712.59 1016.63,713.01 1017.17,713.42 1017.71,713.84 1018.06,714.12 M1031.58,724.69 1031.62,724.72 1032.16,725.14 1032.70,725.57 1033.24,726.00 1033.78,726.42 1034.32,726.85 1034.87,727.28 1035.41,727.71 1035.95,728.14 1036.49,728.56 1037.03,728.99 1037.57,729.42 1038.11,729.85 1038.48,730.15 M1051.88,740.90 1051.89,740.90 1052.43,741.34 1052.97,741.77 1053.51,742.21 1054.05,742.65 1054.59,743.09 1055.13,743.53 1055.67,743.96 1056.21,744.40 1056.75,744.84 1057.29,745.28 1057.83,745.72 1058.37,746.16 1058.72,746.44 M1072.00,757.36 1072.02,757.37 1072.56,757.82 1073.10,758.27 1073.64,758.72 1074.18,759.16 1074.72,759.61 1075.26,760.06 1075.80,760.51 1076.34,760.96 1076.88,761.41 1077.42,761.86 1077.96,762.31 1078.50,762.76 1078.76,762.98 M1091.93,774.06 1092.01,774.13 1092.55,774.59 1093.09,775.05 1093.64,775.51 1094.18,775.96 1094.72,776.42 1095.26,776.88 1095.80,777.34 1096.34,777.80 1096.88,778.27 1097.42,778.73 1097.96,779.19 1098.50,779.65 1098.63,779.76 M1111.67,790.99 1111.74,791.05 1112.28,791.52 1112.82,791.99 1113.36,792.46 1113.90,792.92 1114.44,793.39 1114.98,793.87 1115.52,794.34 1116.06,794.81 1116.60,795.28 1117.14,795.75 1117.68,796.22 1118.22,796.69 1118.31,796.77 M1131.24,808.15 1131.33,808.23 1131.87,808.71 1132.41,809.19 1132.95,809.67 1133.49,810.15 1134.03,810.63 1134.57,811.11 1135.11,811.59 1135.65,812.08 1136.19,812.56 1136.73,813.04 1137.27,813.52 1137.81,814.00 M1150.62,825.53 1150.65,825.56 1151.19,826.05 1151.73,826.54 1152.27,827.03 1152.81,827.52 1153.35,828.01 1153.89,828.50 1154.43,828.99 1154.97,829.49 1155.51,829.98 1156.05,830.47 1156.59,830.96 1157.13,831.45 M1169.82,843.13 1169.83,843.14 1170.37,843.64 1170.91,844.14 1171.46,844.64 1172.00,845.14 1172.54,845.64 1173.08,846.15 1173.62,846.65 1174.16,847.15 1174.70,847.65 1175.24,848.16 1175.78,848.66 1176.27,849.12 M1188.84,860.93 1188.88,860.97 1189.29,861.35 1189.69,861.74 1190.10,862.12 1190.51,862.51 1190.91,862.89 1191.32,863.27 1191.72,863.66 1192.13,864.04 1192.53,864.43 1192.94,864.81 1193.34,865.20 1193.75,865.58 1194.15,865.97 1194.56,866.36 1194.96,866.74 1195.23,866.99 M1207.68,878.94 1207.80,879.06 1208.20,879.45 1208.61,879.84 1209.01,880.23 1209.42,880.62 1209.82,881.02 1210.23,881.41 1210.64,881.80 1211.04,882.20 1211.45,882.59 1211.85,882.98 1212.26,883.38 1212.66,883.77 1213.07,884.16 1213.47,884.56 1213.88,884.95 1214.00,885.07 M1226.33,897.16 1226.44,897.26 1226.85,897.66 1227.25,898.06 1227.66,898.47 1228.06,898.87 1228.47,899.27 1228.87,899.67 1229.28,900.07 1229.69,900.47 1230.09,900.87 1230.50,901.27 1230.90,901.68 1231.31,902.08 1231.71,902.48 1232.12,902.88 1232.52,903.29 1232.59,903.35 M1244.80,915.57 1244.82,915.59 1245.22,916.00 1245.63,916.41 1246.03,916.82 1246.44,917.22 1246.84,917.63 1247.25,918.04 1247.65,918.45 1248.06,918.86 1248.46,919.27 1248.87,919.68 1249.28,920.09 1249.68,920.50 1250.09,920.92 1250.49,921.33 1250.90,921.74 1250.99,921.83 M1263.07,934.18 1263.19,934.31 1263.60,934.72 1264.00,935.14 1264.41,935.56 1264.81,935.98 1265.22,936.39 1265.62,936.81 1266.03,937.23 1266.43,937.65 1266.84,938.07 1267.24,938.49 1267.65,938.91 1268.05,939.33 1268.46,939.75 1268.87,940.17 1269.19,940.51 M1281.15,952.99 1281.16,953.00 1281.57,953.43 1281.97,953.85 1282.38,954.28 1282.78,954.71 1283.19,955.13 1283.59,955.56 1284.00,955.99 1284.40,956.42 1284.81,956.85 1285.21,957.27 1285.62,957.70 1286.02,958.13 1286.43,958.56 1286.83,958.99 1287.20,959.38 M1299.03,972.00 1299.13,972.10 1299.53,972.54 1299.94,972.97 1300.34,973.41 1300.75,973.84 1301.16,974.28 1301.56,974.72 1301.97,975.15 1302.37,975.59 1302.78,976.03 1303.18,976.47 1303.59,976.90 1303.99,977.34 1304.40,977.78 1304.80,978.22 1305.01,978.45 M1316.71,991.19 1316.83,991.33 1317.23,991.77 1317.64,992.22 1318.04,992.66 1318.45,993.11 1318.85,993.56 1319.26,994.00 1319.66,994.45 1320.07,994.90 1320.48,995.34 1320.88,995.79 1321.29,996.24 1321.69,996.69 1322.10,997.13 1322.50,997.58 1322.62,997.71 M1334.17,1010.59 1334.26,1010.68 1334.66,1011.13 1335.07,1011.59 1335.47,1012.05 1335.88,1012.50 1336.28,1012.96 1336.69,1013.41 1337.09,1013.87 1337.50,1014.33 1337.90,1014.78 1338.31,1015.24 1338.71,1015.70 1339.12,1016.16 1339.52,1016.62 1339.93,1017.07 1340.01,1017.17 M1351.43,1030.17 1351.55,1030.31 1351.95,1030.78 1352.36,1031.24 1352.77,1031.71 1353.17,1032.18 1353.58,1032.64 1353.98,1033.11 1354.39,1033.58 1354.79,1034.04 1355.20,1034.51 1355.60,1034.98 1356.01,1035.45 1356.41,1035.92 1356.82,1036.38 1357.19,1036.82 M1368.46,1049.95 1368.57,1050.08 1368.98,1050.56 1369.38,1051.03 1369.79,1051.51 1370.19,1051.99 1370.60,1052.47 1371.00,1052.94 1371.41,1053.42 1371.81,1053.90 1372.22,1054.38 1372.63,1054.86 1373.03,1055.33 1373.44,1055.81 1373.84,1056.29 1374.15,1056.66 M1385.27,1069.92 1385.33,1069.98 1385.73,1070.47 1386.14,1070.96 1386.54,1071.45 1386.95,1071.94 1387.35,1072.42 1387.76,1072.91 1388.16,1073.40 1388.57,1073.89 1388.97,1074.38 1389.38,1074.87 1389.78,1075.36 1390.19,1075.85 1390.59,1076.34 1390.89,1076.70 M1401.85,1090.08 1401.94,1090.19 1402.35,1090.69 1402.75,1091.19 1403.16,1091.68 1403.56,1092.18 1403.97,1092.68 1404.37,1093.18 1404.78,1093.68 1405.19,1094.19 1405.59,1094.69 1406.00,1095.19 1406.40,1095.69 1406.81,1096.19 1407.21,1096.69 1407.39,1096.92 M1418.21,1110.42 1418.29,1110.53 1418.70,1111.04 1419.10,1111.55 1419.51,1112.06 1419.91,1112.57 1420.32,1113.09 1420.72,1113.60 1421.13,1114.11 1421.53,1114.62 1421.94,1115.14 1422.34,1115.65 1422.75,1116.16 1423.15,1116.68 1423.56,1117.19 1423.67,1117.32 M1434.32,1130.95 1434.37,1131.01 1434.77,1131.53 1435.18,1132.06 1435.58,1132.58 1435.99,1133.10 1436.39,1133.63 1436.80,1134.15 1437.21,1134.67 1437.61,1135.20 1438.02,1135.72 1438.42,1136.25 1438.83,1136.78 1439.23,1137.30 1439.64,1137.83 1439.70,1137.91 M1450.20,1151.66 1450.31,1151.80 1450.72,1152.33 1451.12,1152.87 1451.53,1153.40 1451.93,1153.94 1452.34,1154.48 1452.74,1155.01 1453.15,1155.55 1453.55,1156.09 1453.96,1156.62 1454.36,1157.16 1454.77,1157.70 1455.17,1158.24 1455.51,1158.68 M1465.85,1172.54 1465.98,1172.71 1466.39,1173.26 1466.79,1173.81 1467.20,1174.36 1467.60,1174.91 1468.01,1175.45 1468.41,1176.00 1468.82,1176.55 1469.22,1177.10 1469.63,1177.65 1470.04,1178.20 1470.44,1178.75 1470.85,1179.30 1471.08,1179.62 M1481.27,1193.59 1481.38,1193.74 1481.79,1194.30 1482.19,1194.86 1482.60,1195.42 1483.01,1195.98 1483.41,1196.55 1483.82,1197.11 1484.22,1197.67 1484.63,1198.23 1485.03,1198.79 1485.44,1199.36 1485.84,1199.92 1486.25,1200.48 1486.42,1200.72 M1496.46,1214.79 1496.52,1214.86 1496.92,1215.44 1497.33,1216.01 1497.73,1216.58 1498.14,1217.15 1498.54,1217.73 1498.95,1218.30 1499.35,1218.87 1499.76,1219.45 1500.16,1220.02 1500.57,1220.60 1500.97,1221.17 1501.38,1221.75 1501.54,1221.98 M1511.44,1236.14 1511.51,1236.24 1511.92,1236.83 1512.32,1237.41 1512.73,1238.00 1513.13,1238.58 1513.54,1239.17 1513.94,1239.75 1514.35,1240.34 1514.76,1240.92 1515.16,1241.51 1515.57,1242.10 1515.97,1242.68 1516.38,1243.27 1516.45,1243.37 M1526.22,1257.62 1526.24,1257.65 1526.64,1258.25 1527.05,1258.84 1527.45,1259.44 1527.86,1260.04 1528.27,1260.63 1528.67,1261.23 1529.08,1261.82 1529.48,1262.42 1529.89,1263.02 1530.29,1263.62 1530.70,1264.21 1531.10,1264.81 1531.16,1264.90 M1540.81,1279.22 1540.83,1279.25 1541.24,1279.85 1541.64,1280.46 1542.05,1281.06 1542.45,1281.67 1542.86,1282.28 1543.26,1282.88 1543.67,1283.49 1544.07,1284.10 1544.48,1284.70 1544.88,1285.31 1545.29,1285.92 1545.69,1286.52 1545.70,1286.54 M1555.25,1300.91 1555.29,1300.97 1555.69,1301.59 1556.10,1302.20 1556.50,1302.81 1556.91,1303.43 1557.31,1304.04 1557.72,1304.66 1558.12,1305.27 1558.53,1305.88 1558.93,1306.50 1559.34,1307.11 1559.74,1307.73 1560.09,1308.26 M1569.56,1322.68 1569.61,1322.75 1570.01,1323.37 1570.42,1323.99 1570.82,1324.61 1571.23,1325.23 1571.63,1325.85 1572.04,1326.47 1572.44,1327.09 1572.85,1327.71 1573.26,1328.33 1573.66,1328.95 1574.07,1329.57 1574.38,1330.05 M1583.80,1344.49 1583.93,1344.68 1584.20,1345.10 1584.47,1345.51 1584.74,1345.93 1585.01,1346.34 1585.28,1346.76 1585.55,1347.17 1585.82,1347.59 1586.09,1348.00 1586.36,1348.41 1586.63,1348.83 1586.90,1349.24 1587.17,1349.66 1587.44,1350.07 1587.71,1350.49 1587.98,1350.90 1588.25,1351.32 1588.52,1351.73 1588.61,1351.86 M1598.03,1366.30 1598.11,1366.44 1598.38,1366.85 1598.65,1367.26 1598.92,1367.68 1599.20,1368.09 1599.47,1368.50 1599.74,1368.92 1600.01,1369.33 1600.28,1369.74 1600.55,1370.16 1600.82,1370.57 1601.09,1370.98 1601.36,1371.40 1601.63,1371.81 1601.90,1372.22 1602.17,1372.63 1602.44,1373.05 1602.71,1373.46 1602.84,1373.67 M1612.31,1388.06 1612.44,1388.25 1612.84,1388.86 1613.25,1389.47 1613.65,1390.09 1614.06,1390.70 1614.46,1391.31 1614.87,1391.92 1615.27,1392.53 1615.68,1393.14 1616.08,1393.75 1616.49,1394.36 1616.89,1394.97 1617.17,1395.39 M1626.77,1409.70 1626.89,1409.88 1627.30,1410.47 1627.70,1411.07 1628.11,1411.67 1628.51,1412.26 1628.92,1412.86 1629.32,1413.45 1629.73,1414.05 1630.13,1414.64 1630.54,1415.24 1630.94,1415.83 1631.35,1416.42 1631.72,1416.97 M1641.55,1431.10 1641.62,1431.19 1642.02,1431.76 1642.43,1432.34 1642.83,1432.91 1643.24,1433.48 1643.64,1434.05 1644.05,1434.62 1644.46,1435.18 1644.86,1435.75 1645.27,1436.32 1645.67,1436.88 1646.08,1437.45 1646.48,1438.01 1646.67,1438.26 M1656.88,1452.11 1656.88,1452.11 1657.29,1452.65 1657.70,1453.18 1658.10,1453.71 1658.51,1454.24 1658.91,1454.77 1659.32,1455.30 1659.72,1455.83 1660.13,1456.35 1660.53,1456.88 1660.94,1457.40 1661.34,1457.92 1661.75,1458.44 1662.15,1458.96 1662.25,1459.08 M1673.09,1472.43 1673.10,1472.44 1673.50,1472.92 1673.91,1473.40 1674.31,1473.87 1674.72,1474.35 1675.12,1474.82 1675.53,1475.29 1675.93,1475.76 1676.34,1476.22 1676.74,1476.69 1677.15,1477.15 1677.56,1477.61 1677.96,1478.07 1678.37,1478.53 1678.77,1478.98 1678.86,1479.08 M1690.69,1491.55 1690.80,1491.65 1691.20,1492.05 1691.61,1492.44 1692.01,1492.84 1692.42,1493.23 1692.82,1493.61 1693.23,1494.00 1693.63,1494.38 1694.04,1494.77 1694.44,1495.15 1694.85,1495.52 1695.25,1495.90 1695.66,1496.27 1696.06,1496.64 1696.47,1497.01 1696.88,1497.38 1697.10,1497.58 M1710.49,1508.33 1710.52,1508.36 1711.06,1508.74 1711.60,1509.11 1712.14,1509.48 1712.68,1509.84 1713.22,1510.20 1713.76,1510.56 1714.30,1510.91 1714.84,1511.26 1715.38,1511.60 1715.93,1511.94 1716.47,1512.27 1717.01,1512.60 1717.55,1512.92 1717.87,1513.11 M1733.42,1520.34 1733.49,1520.36 1734.16,1520.58 1734.84,1520.80 1735.52,1521.01 1736.19,1521.21 1736.87,1521.40 1737.54,1521.59 1738.22,1521.76 1738.89,1521.94 1739.57,1522.10 1740.24,1522.25 1740.92,1522.40 1741.59,1522.54 1741.92,1522.61 M1759.00,1523.63 1759.02,1523.63 1759.70,1523.57 1760.37,1523.51 1761.05,1523.45 1761.73,1523.37 1762.40,1523.29 1763.08,1523.20 1763.75,1523.11 1764.43,1523.01 1765.10,1522.90 1765.78,1522.78 1766.45,1522.66 1767.13,1522.53 1767.71,1522.42 M1784.07,1517.30 1784.15,1517.27 1784.69,1517.04 1785.23,1516.81 1785.77,1516.58 1786.31,1516.34 1786.85,1516.10 1787.40,1515.86 1787.94,1515.61 1788.48,1515.36 1789.02,1515.11 1789.56,1514.85 1790.10,1514.59 1790.64,1514.33 1791.18,1514.06 1791.72,1513.79 1792.06,1513.62 M1806.91,1505.04 1806.99,1504.99 1807.53,1504.64 1808.07,1504.29 1808.61,1503.93 1809.15,1503.58 1809.69,1503.22 1810.23,1502.86 1810.77,1502.49 1811.31,1502.13 1811.85,1501.76 1812.39,1501.39 1812.93,1501.02 1813.47,1500.65 1814.01,1500.27 1814.22,1500.13 M1828.00,1489.91 1828.06,1489.86 1828.60,1489.43 1829.14,1489.01 1829.68,1488.58 1830.22,1488.16 1830.76,1487.73 1831.30,1487.30 1831.84,1486.87 1832.38,1486.44 1832.93,1486.00 1833.47,1485.57 1834.01,1485.13 1834.55,1484.70 1834.88,1484.43 M1848.06,1473.44 1848.06,1473.44 1848.60,1472.98 1849.14,1472.52 1849.68,1472.05 1850.22,1471.59 1850.76,1471.13 1851.30,1470.66 1851.84,1470.20 1852.38,1469.73 1852.92,1469.26 1853.46,1468.80 1854.00,1468.33 1854.54,1467.86 1854.73,1467.70 M1867.63,1456.39 1867.65,1456.38 1868.19,1455.90 1868.73,1455.42 1869.27,1454.94 1869.81,1454.47 1870.35,1453.99 1870.89,1453.51 1871.43,1453.03 1871.97,1452.55 1872.51,1452.07 1873.05,1451.60 1873.59,1451.12 1874.13,1450.64 1874.22,1450.56 M1887.06,1439.19 1887.10,1439.16 1887.64,1438.68 1888.18,1438.20 1888.72,1437.73 1889.26,1437.25 1889.80,1436.77 1890.34,1436.30 1890.88,1435.82 1891.43,1435.35 1891.97,1434.87 1892.51,1434.40 1893.05,1433.92 1893.59,1433.45 1893.67,1433.38 M1906.60,1422.11 1906.69,1422.04 1907.23,1421.57 1907.77,1421.11 1908.31,1420.64 1908.85,1420.18 1909.39,1419.71 1909.93,1419.25 1910.48,1418.79 1911.02,1418.32 1911.56,1417.86 1912.10,1417.40 1912.64,1416.94 1913.18,1416.48 1913.29,1416.39 M1926.42,1405.35 1926.55,1405.24 1927.09,1404.80 1927.63,1404.35 1928.17,1403.91 1928.71,1403.46 1929.25,1403.02 1929.80,1402.57 1930.34,1402.13 1930.88,1401.69 1931.42,1401.25 1931.96,1400.80 1932.50,1400.36 1933.04,1399.92 1933.23,1399.77 M1946.64,1389.06 1946.68,1389.03 1947.22,1388.61 1947.76,1388.19 1948.30,1387.77 1948.84,1387.34 1949.39,1386.92 1949.93,1386.51 1950.47,1386.09 1951.01,1385.67 1951.55,1385.25 1952.09,1384.84 1952.63,1384.42 1953.17,1384.01 1953.60,1383.68 M1967.34,1373.38 1967.35,1373.37 1967.89,1372.98 1968.43,1372.59 1968.98,1372.19 1969.52,1371.80 1970.06,1371.41 1970.60,1371.02 1971.14,1370.63 1971.68,1370.24 1972.22,1369.85 1972.76,1369.46 1973.30,1369.07 1973.84,1368.68 1974.38,1368.30 1974.47,1368.23 M1988.58,1358.43 1988.70,1358.35 1989.24,1357.98 1989.78,1357.62 1990.32,1357.26 1990.86,1356.89 1991.40,1356.53 1991.94,1356.17 1992.48,1355.81 1993.02,1355.45 1993.56,1355.09 1994.10,1354.74 1994.65,1354.38 1995.19,1354.02 1995.73,1353.67 1995.90,1353.55 M2010.40,1344.31 2010.45,1344.27 2010.99,1343.94 2011.53,1343.61 2012.07,1343.27 2012.61,1342.94 2013.15,1342.61 2013.69,1342.28 2014.24,1341.95 2014.78,1341.63 2015.32,1341.30 2015.86,1340.97 2016.40,1340.65 2016.94,1340.32 2017.48,1340.00 2017.91,1339.73 M2032.80,1331.12 2032.88,1331.07 2033.42,1330.77 2033.96,1330.47 2034.50,1330.17 2035.04,1329.87 2035.58,1329.57 2036.12,1329.27 2036.66,1328.98 2037.20,1328.68 2037.74,1328.39 2038.28,1328.09 2038.82,1327.80 2039.36,1327.50 2039.90,1327.21 2040.45,1326.92 2040.51,1326.88 M2055.79,1318.95 2055.85,1318.92 2056.39,1318.65 2056.93,1318.38 2057.47,1318.11 2058.01,1317.85 2058.55,1317.58 2059.09,1317.31 2059.63,1317.05 2060.17,1316.79 2060.71,1316.52 2061.25,1316.26 2061.79,1316.00 2062.33,1315.74 2062.87,1315.48 2063.41,1315.22 2063.70,1315.08 M2079.36,1307.88 2079.49,1307.82 2080.03,1307.59 2080.57,1307.35 2081.11,1307.11 2081.65,1306.88 2082.19,1306.64 2082.73,1306.41 2083.27,1306.18 2083.81,1305.95 2084.35,1305.71 2084.89,1305.48 2085.44,1305.25 2085.98,1305.03 2086.52,1304.80 2087.06,1304.57 2087.44,1304.41 M2103.46,1298.00 2103.54,1297.97 2104.21,1297.71 2104.89,1297.45 2105.57,1297.20 2106.24,1296.95 2106.92,1296.70 2107.59,1296.44 2108.27,1296.19 2108.94,1295.95 2109.62,1295.70 2110.29,1295.45 2110.97,1295.21 2111.65,1294.96 2111.71,1294.94 M2128.07,1289.36 2128.13,1289.34 2128.80,1289.12 2129.48,1288.90 2130.15,1288.69 2130.83,1288.48 2131.51,1288.26 2132.18,1288.05 2132.86,1287.84 2133.53,1287.63 2134.21,1287.42 2134.88,1287.22 2135.56,1287.01 2136.23,1286.80 2136.47,1286.73 M2153.12,1282.02 2153.12,1282.02 2153.80,1281.84 2154.47,1281.67 2155.15,1281.49 2155.82,1281.32 2156.50,1281.14 2157.18,1280.97 2157.85,1280.80 2158.53,1280.63 2159.20,1280.46 2159.88,1280.29 2160.55,1280.12 2161.23,1279.96 2161.65,1279.85 M2178.56,1276.04 2178.66,1276.02 2179.33,1275.89 2180.01,1275.75 2180.68,1275.61 2181.36,1275.48 2182.03,1275.34 2182.71,1275.21 2183.39,1275.07 2184.06,1274.94 2184.74,1274.81 2185.41,1274.68 2186.09,1274.55 2186.76,1274.43 2187.20,1274.34 M2204.33,1271.46 2204.46,1271.44 2205.14,1271.34 2205.81,1271.24 2206.49,1271.15 2207.16,1271.05 2207.84,1270.95 2208.51,1270.86 2209.19,1270.76 2209.87,1270.67 2210.54,1270.58 2211.22,1270.49 2211.89,1270.40 2212.57,1270.31 2213.04,1270.24 M2230.35,1268.32 2230.40,1268.31 2231.08,1268.25 2231.75,1268.19 2232.43,1268.13 2233.10,1268.07 2233.78,1268.01 2234.45,1267.95 2235.13,1267.90 2235.81,1267.84 2236.48,1267.79 2237.16,1267.73 2237.83,1267.68 2238.51,1267.63 2239.12,1267.58 M2256.54,1266.62 2256.61,1266.62 2257.29,1266.60 2257.96,1266.58 2258.64,1266.55 2259.31,1266.53 2259.99,1266.51 2260.67,1266.49 2261.34,1266.48 2262.02,1266.46 2262.69,1266.44 2263.37,1266.43 2264.04,1266.41 2264.72,1266.40 2265.34,1266.39" stroke="#00f" stroke-width="6.1" stroke-linecap="round"/>
<path d="M328.00,151.45 328.00,151.45 330.16,151.46 332.32,151.51 334.49,151.58 336.65,151.69 338.81,151.82 340.97,151.98 343.13,152.18 345.29,152.40 347.45,152.65 349.62,152.93 351.78,153.24 353.94,153.59 354.85,153.74 M374.22,158.24 374.34,158.28 374.48,158.32 374.61,158.36 374.75,158.40 374.88,158.44 375.02,158.48 375.15,158.52 375.29,158.56 375.42,158.60 375.56,158.64 375.69,158.68 375.83,158.72 375.96,158.76 376.10,158.81 376.23,158.85 376.37,158.89 376.50,158.93 376.64,158.97 376.77,159.01 376.91,159.06 377.04,159.10 377.09,159.11 M397.01,166.63 397.04,166.64 399.06,167.55 401.09,168.49 403.12,169.45 405.14,170.44 407.17,171.46 409.20,172.50 411.22,173.57 413.25,174.67 415.28,175.80 417.30,176.95 419.33,178.13 421.36,179.34 421.80,179.60 M438.39,190.58 438.52,190.67 438.65,190.77 438.79,190.87 438.92,190.96 439.06,191.06 439.19,191.16 439.33,191.26 439.46,191.35 439.60,191.45 439.73,191.55 439.87,191.65 440.00,191.75 440.14,191.85 440.27,191.94 440.41,192.04 440.54,192.14 440.68,192.24 440.81,192.34 440.82,192.34 M457.36,205.43 457.43,205.50 459.05,206.88 460.67,208.29 462.29,209.71 463.91,211.15 465.54,212.61 467.16,214.09 468.78,215.59 470.40,217.11 472.02,218.64 473.64,220.20 475.26,221.77 476.88,223.37 477.94,224.41 M491.68,238.80 491.75,238.86 491.88,239.01 492.02,239.16 492.15,239.31 492.29,239.46 492.42,239.61 492.56,239.76 492.69,239.91 492.83,240.05 492.96,240.20 493.10,240.35 493.23,240.50 493.37,240.65 493.50,240.80 493.64,240.95 493.70,241.02 M507.33,256.89 507.42,257.00 508.77,258.65 510.12,260.32 511.47,261.99 512.82,263.69 514.17,265.40 515.52,267.12 516.88,268.86 518.23,270.61 519.58,272.37 520.93,274.16 522.28,275.95 523.63,277.76 524.53,278.98 M536.10,295.17 536.20,295.30 536.33,295.50 536.47,295.69 536.60,295.89 536.74,296.09 536.87,296.28 537.01,296.48 537.14,296.67 537.28,296.87 537.41,297.07 537.55,297.27 537.68,297.46 537.80,297.64 M549.28,314.96 549.30,315.00 550.52,316.90 551.73,318.81 552.95,320.74 554.16,322.68 555.38,324.63 556.60,326.60 557.81,328.58 559.03,330.57 560.24,332.58 561.46,334.60 562.68,336.63 563.89,338.67 563.97,338.80 M573.91,356.03 574.02,356.23 574.16,356.48 574.29,356.72 574.43,356.96 574.57,357.20 574.70,357.44 574.84,357.68 574.97,357.92 575.11,358.16 575.24,358.41 575.38,358.65 575.38,358.65 M585.24,376.79 585.37,377.04 586.32,378.83 587.26,380.62 588.21,382.43 589.16,384.25 590.10,386.07 591.05,387.90 591.99,389.74 592.94,391.59 593.88,393.45 594.83,395.32 595.78,397.19 596.72,399.08 597.67,400.97 598.03,401.70 M606.74,419.60 606.86,419.84 606.99,420.13 607.13,420.41 607.26,420.69 607.40,420.98 607.53,421.26 607.67,421.55 607.80,421.83 607.94,422.12 608.03,422.31 M616.67,440.95 616.72,441.06 617.66,443.15 618.61,445.25 619.55,447.36 620.50,449.48 621.45,451.60 622.39,453.74 623.34,455.88 624.28,458.04 625.23,460.20 626.17,462.38 627.12,464.56 627.98,466.57 M635.73,484.90 635.77,484.99 635.90,485.32 636.04,485.64 636.17,485.97 636.31,486.29 636.44,486.62 636.58,486.95 636.71,487.27 636.85,487.60 636.88,487.67 M644.57,506.64 644.68,506.92 645.49,508.96 646.31,511.01 647.12,513.06 647.93,515.12 648.74,517.19 649.55,519.26 650.36,521.35 651.17,523.44 651.98,525.53 652.79,527.64 653.60,529.75 654.41,531.87 654.74,532.73 M661.73,551.36 661.84,551.65 661.98,552.02 662.11,552.38 662.25,552.75 662.38,553.12 662.52,553.48 662.65,553.85 662.77,554.17 M669.74,573.36 669.81,573.57 670.49,575.46 671.16,577.35 671.84,579.25 672.52,581.16 673.19,583.07 673.87,584.98 674.54,586.90 675.22,588.83 675.89,590.76 676.57,592.69 677.24,594.63 677.92,596.58 678.60,598.53 679.03,599.77 M685.46,618.61 685.49,618.69 685.62,619.09 685.76,619.49 685.89,619.90 686.03,620.30 686.16,620.70 686.30,621.10 686.41,621.45 M692.85,640.78 692.92,640.98 693.59,643.03 694.27,645.09 694.94,647.15 695.62,649.22 696.29,651.29 696.97,653.36 697.64,655.44 698.32,657.52 699.00,659.60 699.67,661.69 700.35,663.78 701.02,665.88 701.51,667.40 M707.57,686.36 707.64,686.60 707.78,687.03 707.91,687.45 708.05,687.88 708.18,688.30 708.32,688.73 708.45,689.16 708.47,689.22 M714.59,708.63 714.67,708.89 715.34,711.04 716.02,713.20 716.69,715.36 717.37,717.52 718.05,719.68 718.72,721.84 719.40,724.00 720.07,726.17 720.75,728.33 721.42,730.50 722.10,732.67 722.77,734.84 722.94,735.35 M728.86,754.35 728.99,754.77 729.12,755.20 729.26,755.63 729.39,756.06 729.53,756.50 729.66,756.93 729.75,757.21 M735.84,776.62 735.88,776.73 736.56,778.87 737.23,781.00 737.91,783.13 738.58,785.26 739.26,787.38 739.93,789.50 740.61,791.62 741.28,793.73 741.96,795.83 742.63,797.93 743.31,800.02 743.99,802.10 744.37,803.29 M750.61,822.18 750.74,822.58 750.88,822.98 751.01,823.38 751.15,823.78 751.28,824.18 751.42,824.58 751.55,824.98 751.57,825.02 M758.24,844.23 758.31,844.41 759.12,846.66 759.93,848.90 760.74,851.11 761.55,853.31 762.36,855.48 763.17,857.64 763.98,859.77 764.79,861.88 765.60,863.97 766.41,866.03 767.22,868.08 768.03,870.09 768.16,870.42 M776.07,888.68 776.14,888.83 776.28,889.12 776.41,889.41 776.55,889.69 776.68,889.98 776.82,890.26 776.95,890.55 777.09,890.83 777.22,891.11 777.35,891.39 M787.02,909.29 787.08,909.38 788.57,911.71 790.06,913.93 791.54,916.03 793.03,918.01 794.51,919.87 796.00,921.62 797.49,923.26 798.97,924.78 800.46,926.18 801.95,927.47 803.43,928.64 804.92,929.71 805.46,930.07 M824.42,934.44 824.51,934.43 824.64,934.41 824.78,934.39 824.91,934.37 825.05,934.35 825.18,934.33 825.32,934.31 825.45,934.28 825.59,934.26 825.72,934.24 825.86,934.21 825.99,934.19 826.13,934.16 826.26,934.13 826.40,934.11 826.53,934.08 826.67,934.05 826.80,934.02 826.94,933.99 827.07,933.96 827.21,933.93 827.35,933.90 827.36,933.90 M845.90,925.65 845.99,925.59 847.88,924.43 849.77,923.23 851.66,922.00 853.56,920.74 855.45,919.47 857.34,918.18 859.23,916.88 861.12,915.57 863.01,914.26 864.90,912.95 866.80,911.65 868.69,910.35 869.15,910.04 M885.94,899.37 885.98,899.34 886.12,899.26 886.25,899.19 886.39,899.11 886.52,899.03 886.66,898.95 886.79,898.88 886.93,898.80 887.06,898.72 887.20,898.65 887.33,898.57 887.47,898.50 887.60,898.42 887.74,898.34 887.87,898.27 888.01,898.19 888.14,898.12 888.28,898.04 888.41,897.97 888.55,897.90 888.55,897.89 M907.11,889.47 907.19,889.44 909.35,888.72 911.51,888.05 913.68,887.44 915.84,886.89 918.00,886.40 920.16,885.97 922.32,885.60 924.48,885.30 926.65,885.05 928.81,884.86 930.97,884.74 933.13,884.67 934.56,884.66 M954.23,887.32 954.34,887.35 954.48,887.39 954.61,887.43 954.75,887.46 954.88,887.50 955.02,887.54 955.15,887.58 955.29,887.61 955.42,887.65 955.56,887.69 955.69,887.73 955.83,887.77 955.96,887.81 956.10,887.85 956.23,887.88 956.37,887.92 956.50,887.96 956.64,888.00 956.77,888.05 956.91,888.09 957.05,888.13 957.11,888.15 M975.87,896.21 975.96,896.26 977.85,897.34 979.74,898.46 981.63,899.63 983.53,900.85 985.42,902.11 987.31,903.42 989.20,904.78 991.09,906.18 992.98,907.63 994.87,909.13 996.77,910.67 998.66,912.27 998.71,912.31 M1013.15,926.00 1013.25,926.10 1013.38,926.25 1013.52,926.39 1013.65,926.53 1013.79,926.67 1013.92,926.81 1014.06,926.95 1014.19,927.10 1014.33,927.24 1014.46,927.38 1014.60,927.53 1014.73,927.67 1014.87,927.81 1015.00,927.96 1015.14,928.10 1015.21,928.18 M1028.63,943.67 1028.65,943.70 1030.00,945.39 1031.35,947.10 1032.70,948.84 1034.05,950.60 1035.41,952.38 1036.76,954.18 1038.11,956.01 1039.46,957.86 1040.81,959.74 1042.16,961.64 1043.51,963.56 1044.86,965.51 1045.31,966.15 M1056.23,982.79 1056.35,982.97 1056.48,983.18 1056.62,983.40 1056.75,983.61 1056.89,983.83 1057.02,984.05 1057.16,984.26 1057.29,984.48 1057.43,984.70 1057.56,984.91 1057.70,985.13 1057.82,985.33 M1068.35,1002.98 1068.37,1003.01 1069.45,1004.90 1070.53,1006.80 1071.61,1008.72 1072.69,1010.65 1073.78,1012.59 1074.86,1014.55 1075.94,1016.52 1077.02,1018.50 1078.10,1020.50 1079.18,1022.51 1080.26,1024.54 1081.34,1026.58 1081.83,1027.51 M1090.92,1045.22 1090.93,1045.25 1091.07,1045.52 1091.20,1045.79 1091.34,1046.06 1091.47,1046.33 1091.61,1046.60 1091.74,1046.87 1091.88,1047.14 1092.01,1047.41 1092.15,1047.69 1092.26,1047.90 M1101.26,1066.43 1101.34,1066.59 1102.28,1068.58 1103.23,1070.58 1104.17,1072.59 1105.12,1074.61 1106.06,1076.63 1107.01,1078.66 1107.96,1080.70 1108.90,1082.75 1109.85,1084.80 1110.79,1086.86 1111.74,1088.93 1112.68,1091.00 1113.06,1091.83 M1121.22,1109.98 1121.33,1110.22 1121.47,1110.53 1121.60,1110.83 1121.74,1111.14 1121.87,1111.44 1122.01,1111.74 1122.14,1112.05 1122.28,1112.35 1122.41,1112.66 1122.44,1112.72 M1130.77,1131.62 1130.79,1131.65 1131.73,1133.81 1132.68,1135.96 1133.63,1138.12 1134.57,1140.28 1135.52,1142.44 1136.46,1144.59 1137.41,1146.75 1138.35,1148.90 1139.30,1151.06 1140.25,1153.21 1141.19,1155.36 1142.03,1157.26 M1150.13,1175.43 1150.24,1175.70 1150.38,1176.00 1150.51,1176.30 1150.65,1176.60 1150.78,1176.89 1150.92,1177.19 1151.05,1177.49 1151.19,1177.79 1151.32,1178.09 1151.36,1178.17 M1160.07,1196.96 1160.11,1197.03 1161.05,1199.01 1162.00,1200.97 1162.94,1202.92 1163.89,1204.85 1164.84,1206.76 1165.78,1208.66 1166.73,1210.54 1167.67,1212.40 1168.62,1214.25 1169.56,1216.07 1170.51,1217.87 1171.46,1219.65 1172.40,1221.41 1172.69,1221.95 M1182.78,1239.10 1182.80,1239.14 1182.94,1239.35 1183.07,1239.56 1183.21,1239.77 1183.34,1239.97 1183.48,1240.18 1183.61,1240.38 1183.75,1240.59 1183.88,1240.79 1184.02,1241.00 1184.16,1241.20 1184.29,1241.40 1184.42,1241.60 M1197.35,1257.81 1197.40,1257.86 1199.42,1259.81 1201.45,1261.58 1203.47,1263.18 1205.50,1264.61 1207.53,1265.86 1209.55,1266.94 1211.58,1267.85 1213.61,1268.58 1215.63,1269.14 1217.66,1269.53 1219.69,1269.76 1221.71,1269.83 1221.79,1269.82 M1240.43,1263.59 1240.49,1263.55 1240.63,1263.47 1240.76,1263.38 1240.90,1263.30 1241.03,1263.21 1241.17,1263.13 1241.30,1263.04 1241.44,1262.96 1241.57,1262.87 1241.71,1262.78 1241.84,1262.69 1241.98,1262.60 1242.11,1262.52 1242.25,1262.43 1242.39,1262.34 1242.52,1262.25 1242.66,1262.15 1242.79,1262.06 1242.93,1261.97 1242.94,1261.96 M1258.88,1248.62 1259.00,1248.51 1260.62,1246.93 1262.25,1245.33 1263.87,1243.70 1265.49,1242.05 1267.11,1240.38 1268.73,1238.70 1270.35,1237.00 1271.97,1235.29 1273.59,1233.57 1275.22,1231.84 1276.84,1230.11 1278.35,1228.49 M1292.00,1214.02 1292.10,1213.91 1292.24,1213.77 1292.37,1213.63 1292.51,1213.49 1292.64,1213.35 1292.78,1213.21 1292.91,1213.08 1293.05,1212.94 1293.18,1212.80 1293.32,1212.66 1293.45,1212.52 1293.59,1212.38 1293.72,1212.24 1293.86,1212.10 1293.99,1211.96 1294.09,1211.86 M1309.00,1197.29 1309.13,1197.18 1310.88,1195.58 1312.64,1194.01 1314.40,1192.47 1316.15,1190.96 1317.91,1189.48 1319.66,1188.04 1321.42,1186.62 1323.18,1185.23 1324.93,1183.88 1326.69,1182.57 1328.45,1181.28 1330.20,1180.04 1330.73,1179.67 M1347.82,1169.51 1347.90,1169.47 1348.04,1169.41 1348.17,1169.34 1348.31,1169.28 1348.44,1169.21 1348.58,1169.14 1348.71,1169.08 1348.85,1169.01 1348.98,1168.95 1349.12,1168.89 1349.25,1168.82 1349.39,1168.76 1349.52,1168.69 1349.66,1168.63 1349.79,1168.57 1349.93,1168.51 1350.06,1168.44 1350.20,1168.38 1350.33,1168.32 1350.47,1168.26 1350.53,1168.23 M1370.30,1161.63 1370.33,1161.63 1372.63,1161.18 1374.92,1160.81 1377.22,1160.50 1379.52,1160.26 1381.81,1160.09 1384.11,1159.98 1386.41,1159.94 1388.70,1159.98 1391.00,1160.08 1393.30,1160.24 1395.59,1160.48 1397.89,1160.78 1398.14,1160.82 M1417.29,1166.09 1417.34,1166.11 1417.48,1166.16 1417.62,1166.22 1417.75,1166.27 1417.89,1166.33 1418.02,1166.38 1418.16,1166.44 1418.29,1166.49 1418.43,1166.55 1418.56,1166.60 1418.70,1166.66 1418.83,1166.72 1418.97,1166.77 1419.10,1166.83 1419.24,1166.89 1419.37,1166.95 1419.51,1167.00 1419.64,1167.06 1419.78,1167.12 1419.91,1167.18 1420.05,1167.24 1420.06,1167.24 M1438.32,1177.37 1438.42,1177.44 1440.18,1178.64 1441.93,1179.89 1443.69,1181.18 1445.45,1182.50 1447.20,1183.87 1448.96,1185.28 1450.72,1186.73 1452.47,1188.22 1454.23,1189.74 1455.98,1191.31 1457.74,1192.92 1459.50,1194.57 1459.99,1195.05 M1473.74,1209.43 1473.82,1209.53 1473.95,1209.68 1474.09,1209.84 1474.22,1209.99 1474.36,1210.14 1474.49,1210.30 1474.63,1210.45 1474.76,1210.61 1474.90,1210.76 1475.03,1210.92 1475.17,1211.08 1475.30,1211.23 1475.44,1211.39 1475.57,1211.54 1475.71,1211.70 M1488.81,1228.01 1488.82,1228.02 1490.03,1229.65 1491.25,1231.29 1492.46,1232.95 1493.68,1234.63 1494.89,1236.33 1496.11,1238.04 1497.33,1239.77 1498.54,1241.53 1499.76,1243.29 1500.97,1245.08 1502.19,1246.88 1503.41,1248.71 1504.62,1250.54 1504.88,1250.94 M1515.52,1267.75 1515.57,1267.83 1515.70,1268.05 1515.84,1268.28 1515.97,1268.50 1516.11,1268.72 1516.24,1268.94 1516.38,1269.16 1516.51,1269.39 1516.65,1269.61 1516.78,1269.83 1516.92,1270.05 1517.05,1270.28 1517.08,1270.32 M1527.67,1288.37 1527.73,1288.46 1528.81,1290.36 1529.89,1292.26 1530.97,1294.18 1532.05,1296.10 1533.13,1298.03 1534.21,1299.97 1535.29,1301.92 1536.37,1303.87 1537.45,1305.83 1538.53,1307.80 1539.61,1309.77 1540.69,1311.75 1541.29,1312.84 M1550.76,1330.34 1550.83,1330.47 1550.96,1330.72 1551.10,1330.97 1551.23,1331.22 1551.37,1331.47 1551.50,1331.72 1551.64,1331.97 1551.77,1332.22 1551.91,1332.47 1552.04,1332.72 1552.18,1332.97 1552.19,1332.98 M1562.17,1351.38 1562.18,1351.39 1563.26,1353.36 1564.34,1355.31 1565.42,1357.26 1566.50,1359.19 1567.58,1361.12 1568.66,1363.03 1569.74,1364.93 1570.82,1366.82 1571.90,1368.69 1572.98,1370.55 1574.07,1372.39 1575.15,1374.21 1576.04,1375.70 M1586.79,1392.44 1586.90,1392.59 1587.04,1392.79 1587.17,1392.98 1587.31,1393.17 1587.44,1393.36 1587.58,1393.55 1587.71,1393.74 1587.85,1393.93 1587.98,1394.12 1588.12,1394.31 1588.25,1394.50 1588.39,1394.69 1588.52,1394.88 1588.53,1394.89 M1602.07,1410.77 1602.17,1410.86 1604.19,1412.67 1606.22,1414.31 1608.25,1415.78 1610.27,1417.07 1612.30,1418.19 1614.33,1419.12 1616.35,1419.87 1618.38,1420.43 1620.41,1420.80 1622.43,1420.98 1624.46,1420.97 1626.49,1420.77 1627.15,1420.66 M1644.37,1411.21 1644.46,1411.13 1644.59,1411.01 1644.73,1410.89 1644.86,1410.76 1645.00,1410.64 1645.13,1410.51 1645.27,1410.39 1645.40,1410.26 1645.54,1410.14 1645.67,1410.01 1645.81,1409.88 1645.94,1409.75 1646.08,1409.62 1646.21,1409.49 1646.35,1409.36 1646.48,1409.23 1646.56,1409.16 M1660.02,1393.23 1660.13,1393.08 1661.34,1391.40 1662.56,1389.69 1663.77,1387.95 1664.99,1386.17 1666.21,1384.37 1667.42,1382.54 1668.64,1380.69 1669.85,1378.81 1671.07,1376.91 1672.29,1374.99 1673.50,1373.05 1674.72,1371.10 1675.46,1369.89 M1685.70,1352.82 1685.80,1352.65 1685.93,1352.42 1686.07,1352.19 1686.20,1351.96 1686.34,1351.73 1686.47,1351.50 1686.61,1351.27 1686.74,1351.04 1686.88,1350.81 1687.01,1350.58 1687.15,1350.35 1687.22,1350.23 M1697.71,1332.26 1697.82,1332.06 1698.90,1330.22 1699.98,1328.37 1701.06,1326.52 1702.14,1324.68 1703.23,1322.85 1704.31,1321.01 1705.39,1319.19 1706.47,1317.36 1707.55,1315.55 1708.63,1313.74 1709.71,1311.93 1710.79,1310.13 1711.87,1308.34 1711.98,1308.17 M1722.45,1291.24 1722.55,1291.09 1722.68,1290.88 1722.82,1290.66 1722.95,1290.45 1723.09,1290.24 1723.22,1290.03 1723.36,1289.82 1723.49,1289.60 1723.63,1289.39 1723.76,1289.18 1723.90,1288.97 1724.03,1288.76 1724.06,1288.71 M1735.51,1271.42 1735.52,1271.42 1736.87,1269.46 1738.22,1267.52 1739.57,1265.60 1740.92,1263.70 1742.27,1261.82 1743.62,1259.96 1744.97,1258.11 1746.32,1256.29 1747.67,1254.48 1749.03,1252.70 1750.38,1250.93 1751.73,1249.19 1752.02,1248.81 M1764.69,1233.47 1764.70,1233.45 1764.83,1233.30 1764.97,1233.14 1765.10,1232.99 1765.24,1232.84 1765.37,1232.68 1765.51,1232.53 1765.64,1232.38 1765.78,1232.23 1765.91,1232.07 1766.05,1231.92 1766.18,1231.77 1766.32,1231.62 1766.45,1231.46 1766.59,1231.31 1766.67,1231.22 M1780.98,1216.34 1781.05,1216.29 1782.80,1214.62 1784.56,1212.99 1786.31,1211.39 1788.07,1209.82 1789.83,1208.29 1791.58,1206.79 1793.34,1205.33 1795.10,1203.90 1796.85,1202.50 1798.61,1201.14 1800.37,1199.81 1802.12,1198.51 1802.38,1198.32 M1819.15,1187.62 1819.28,1187.55 1819.41,1187.48 1819.55,1187.41 1819.69,1187.33 1819.82,1187.26 1819.96,1187.18 1820.09,1187.11 1820.23,1187.04 1820.36,1186.97 1820.50,1186.89 1820.63,1186.82 1820.77,1186.75 1820.90,1186.68 1821.04,1186.60 1821.17,1186.53 1821.31,1186.46 1821.44,1186.39 1821.58,1186.32 1821.71,1186.25 1821.79,1186.21 M1840.64,1178.12 1840.76,1178.08 1842.92,1177.37 1845.08,1176.72 1847.25,1176.10 1849.41,1175.53 1851.57,1175.01 1853.73,1174.52 1855.89,1174.09 1858.05,1173.69 1860.22,1173.34 1862.38,1173.02 1864.54,1172.75 1866.70,1172.53 1867.98,1172.41 M1887.86,1172.40 1887.91,1172.40 1888.05,1172.41 1888.18,1172.42 1888.32,1172.44 1888.45,1172.45 1888.59,1172.46 1888.72,1172.47 1888.86,1172.48 1888.99,1172.49 1889.13,1172.51 1889.26,1172.52 1889.40,1172.53 1889.53,1172.54 1889.67,1172.56 1889.80,1172.57 1889.94,1172.58 1890.07,1172.60 1890.21,1172.61 1890.34,1172.62 1890.48,1172.64 1890.61,1172.65 1890.75,1172.67 1890.85,1172.68 M1910.89,1176.29 1911.02,1176.32 1913.18,1176.88 1915.34,1177.47 1917.50,1178.10 1919.66,1178.75 1921.82,1179.44 1923.99,1180.15 1926.15,1180.89 1928.31,1181.66 1930.47,1182.46 1932.63,1183.28 1934.79,1184.13 1936.96,1185.00 1937.41,1185.19 M1955.54,1193.39 1955.60,1193.42 1955.73,1193.49 1955.87,1193.55 1956.01,1193.62 1956.14,1193.69 1956.28,1193.75 1956.41,1193.82 1956.55,1193.89 1956.68,1193.95 1956.82,1194.02 1956.95,1194.09 1957.09,1194.15 1957.22,1194.22 1957.36,1194.29 1957.49,1194.35 1957.63,1194.42 1957.76,1194.49 1957.90,1194.55 1958.03,1194.62 1958.17,1194.69 1958.23,1194.72 M1976.16,1204.06 1976.27,1204.12 1978.30,1205.21 1980.32,1206.30 1982.35,1207.40 1984.38,1208.50 1986.40,1209.60 1988.43,1210.70 1990.46,1211.80 1992.48,1212.89 1994.51,1213.98 1996.54,1215.07 1998.56,1216.14 2000.59,1217.22 2000.82,1217.33 M2018.62,1226.22 2018.69,1226.25 2018.83,1226.32 2018.96,1226.38 2019.10,1226.44 2019.23,1226.50 2019.37,1226.57 2019.50,1226.63 2019.64,1226.69 2019.77,1226.75 2019.91,1226.82 2020.04,1226.88 2020.18,1226.94 2020.31,1227.00 2020.45,1227.06 2020.59,1227.12 2020.72,1227.19 2020.86,1227.25 2020.99,1227.31 2021.13,1227.37 2021.26,1227.43 2021.35,1227.47 M2039.96,1234.84 2040.04,1234.86 2042.20,1235.56 2044.36,1236.23 2046.52,1236.86 2048.69,1237.45 2050.85,1238.00 2053.01,1238.51 2055.17,1238.98 2057.33,1239.41 2059.50,1239.79 2061.66,1240.14 2063.82,1240.44 2065.98,1240.69 2067.25,1240.82 M2087.12,1240.87 2087.19,1240.86 2087.33,1240.85 2087.46,1240.83 2087.60,1240.82 2087.73,1240.81 2087.87,1240.79 2088.00,1240.78 2088.14,1240.77 2088.27,1240.75 2088.41,1240.74 2088.54,1240.73 2088.68,1240.71 2088.81,1240.70 2088.95,1240.68 2089.08,1240.67 2089.22,1240.65 2089.35,1240.64 2089.49,1240.62 2089.62,1240.61 2089.76,1240.59 2089.89,1240.58 2090.03,1240.56 2090.10,1240.55 M2109.49,1236.62 2109.62,1236.59 2111.78,1235.96 2113.94,1235.31 2116.10,1234.61 2118.27,1233.89 2120.43,1233.14 2122.59,1232.36 2124.75,1231.55 2126.91,1230.72 2129.07,1229.87 2131.24,1228.99 2133.40,1228.09 2135.56,1227.16 2135.79,1227.06 M2153.87,1218.76 2153.93,1218.73 2154.07,1218.67 2154.20,1218.60 2154.34,1218.54 2154.47,1218.47 2154.61,1218.41 2154.74,1218.34 2154.88,1218.28 2155.01,1218.21 2155.15,1218.15 2155.28,1218.08 2155.42,1218.02 2155.55,1217.95 2155.69,1217.89 2155.82,1217.82 2155.96,1217.76 2156.09,1217.69 2156.23,1217.63 2156.36,1217.56 2156.50,1217.50 2156.58,1217.46 M2174.17,1208.94 2174.20,1208.92 2176.22,1207.95 2178.25,1206.99 2180.28,1206.03 2182.30,1205.08 2184.33,1204.14 2186.36,1203.21 2188.38,1202.28 2190.41,1201.37 2192.44,1200.47 2194.46,1199.59 2196.49,1198.72 2198.52,1197.86 2199.67,1197.38 M2218.29,1190.37 2218.38,1190.34 2218.51,1190.29 2218.65,1190.25 2218.78,1190.20 2218.92,1190.16 2219.05,1190.11 2219.19,1190.07 2219.32,1190.02 2219.46,1189.98 2219.59,1189.93 2219.73,1189.89 2219.86,1189.85 2220.00,1189.80 2220.13,1189.76 2220.27,1189.72 2220.40,1189.67 2220.54,1189.63 2220.67,1189.58 2220.81,1189.54 2220.94,1189.50 2221.08,1189.45 2221.14,1189.44 M2241.07,1184.17 2241.07,1184.17 2243.37,1183.71 2245.67,1183.28 2247.97,1182.89 2250.26,1182.53 2252.56,1182.20 2254.86,1181.91 2257.15,1181.65 2259.45,1181.42 2261.75,1181.23 2264.04,1181.07 2266.34,1180.94 2268.64,1180.85 2268.84,1180.85" stroke="#f0f" stroke-width="7.0" stroke-linecap="round"/>
</g>
<g font-size="88" stroke="#000" stroke-width="1.1"><text transform="translate(328.00,1700.9) scale(1,1.03)" text-anchor="middle">0</text><text transform="translate(544.71,1700.9) scale(1,1.03)" text-anchor="middle">20</text><text transform="translate(761.41,1700.9) scale(1,1.03)" text-anchor="middle">40</text><text transform="translate(978.12,1700.9) scale(1,1.03)" text-anchor="middle">60</text><text transform="translate(1194.83,1700.9) scale(1,1.03)" text-anchor="middle">80</text><text transform="translate(1411.54,1700.9) scale(1,1.03)" text-anchor="middle">100</text><text transform="translate(1628.24,1700.9) scale(1,1.03)" text-anchor="middle">120</text><text transform="translate(1844.95,1700.9) scale(1,1.03)" text-anchor="middle">140</text><text transform="translate(2061.66,1700.9) scale(1,1.03)" text-anchor="middle">160</text><text transform="translate(2278.36,1700.9) scale(1,1.03)" text-anchor="middle">180</text><text transform="translate(291.00,1625.00) scale(1,1.03)" text-anchor="end">0.01</text><text transform="translate(291.05,1201.24) scale(1,1.03)" text-anchor="end">0.1</text><text transform="translate(293.00,777.48) scale(1,1.03)" text-anchor="end">1</text><text transform="translate(295.40,353.72) scale(1,1.03)" text-anchor="end">10</text></g>
<text x="1300.8" y="1874" font-size="105" text-anchor="middle" stroke="#000" stroke-width="0.7">scattering angle θ (°)</text>
<text transform="translate(99.3,816.5) rotate(-90)" x="0" y="0" font-size="105" text-anchor="middle" stroke="#000" stroke-width="0.7">p(Ω'<tspan style="font-family:'Noto Serif CJK SC',serif" dy="14.7" stroke="#000" stroke-width="1.6">→</tspan><tspan dy="-14.7">Ω)</tspan></text>
<g><rect x="1466" y="96" width="638.6" height="213" fill="#fff" stroke="#000" stroke-width="2"/><line x1="1477.8" y1="152.5" x2="1660.2" y2="152.5" stroke="#000" stroke-width="6.8" stroke-linecap="round"/><line x1="1796.3" y1="152.5" x2="1978.7" y2="152.5" stroke="#f00" stroke-width="6.2" stroke-linecap="round" stroke-dasharray="23.6 32.85"/><line x1="1478.3" y1="252.5" x2="1659.9" y2="252.5" stroke="#00f" stroke-width="6.5" stroke-linecap="round" stroke-dasharray="7.6 17.93"/><line x1="1797" y1="252.5" x2="1978.7" y2="252.5" stroke="#f0f" stroke-width="6.8" stroke-linecap="round" stroke-dasharray="28 19.7 2.6 20.5"/><g font-size="82" stroke="#000" stroke-width="0.9"><text x="1680" y="178.7">B2</text><text x="1998" y="178.7">B1</text><text x="1680" y="278.9">F2</text><text x="1998" y="278.9">F1</text></g></g>
</svg></body></html>
